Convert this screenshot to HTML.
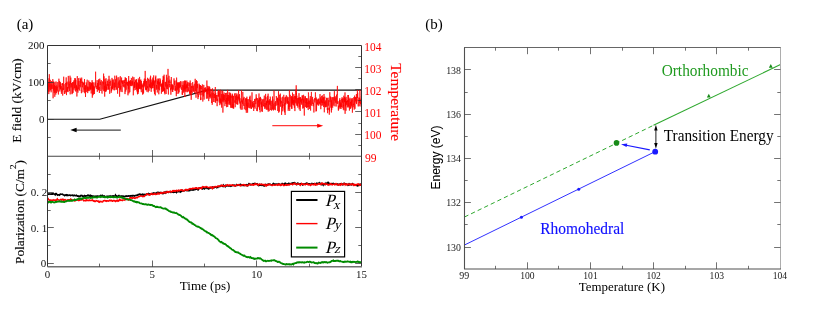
<!DOCTYPE html>
<html lang="en"><head><meta charset="utf-8"><title>Figure</title>
<style>html,body{margin:0;padding:0;background:#fff;}body{width:817px;height:316px;overflow:hidden;}svg{display:block;}</style>
</head><body>
<svg width="817" height="316" viewBox="0 0 817 316" font-family="'Liberation Serif', serif">
<rect width="817" height="316" fill="#fff"/>
<g id="panel-a">
<text x="16.7" y="29.3" font-size="15" fill="#000">(a)</text>
<clipPath id="ca1"><rect x="47.5" y="45.5" width="314.0" height="110.80000000000001"/></clipPath>
<clipPath id="ca2"><rect x="47.5" y="156.3" width="314.0" height="110.5"/></clipPath>
<polyline points="47.5,119.25 99.8,119.25 207.2,90.1 361.5,90.1" fill="none" stroke="#111" stroke-width="1.1"/>
<g clip-path="url(#ca1)"><polyline points="47.5,85.1 47.7,82.6 47.8,80.4 48.0,89.1 48.2,82.1 48.3,91.6 48.5,82.3 48.7,85.6 48.8,94.1 49.0,78.3 49.2,91.6 49.3,74.2 49.5,87.1 49.6,86.0 49.8,82.0 50.0,89.5 50.1,86.7 50.3,79.8 50.5,84.8 50.6,90.4 50.8,88.9 51.0,84.0 51.1,92.3 51.3,89.2 51.5,81.1 51.6,82.1 51.8,89.1 52.0,85.0 52.1,87.6 52.3,88.6 52.5,83.4 52.6,82.9 52.8,79.1 53.0,81.9 53.1,98.3 53.3,81.4 53.5,85.7 53.6,90.6 53.8,86.3 53.9,82.8 54.1,92.8 54.3,87.9 54.4,88.6 54.6,85.1 54.8,96.8 54.9,81.8 55.1,92.7 55.3,91.7 55.4,86.1 55.6,86.7 55.8,94.6 55.9,92.7 56.1,81.5 56.3,85.9 56.4,86.8 56.6,93.0 56.8,85.4 56.9,89.8 57.1,87.1 57.3,91.2 57.4,88.6 57.6,85.9 57.8,82.0 57.9,87.2 58.1,91.9 58.2,91.3 58.4,94.5 58.6,90.2 58.7,90.5 58.9,78.7 59.1,87.4 59.2,86.1 59.4,81.1 59.6,84.7 59.7,89.9 59.9,91.5 60.1,85.4 60.2,89.4 60.4,81.9 60.6,89.3 60.7,83.4 60.9,83.7 61.1,84.9 61.2,87.8 61.4,93.8 61.6,89.1 61.7,86.2 61.9,88.6 62.1,91.4 62.2,83.4 62.4,85.2 62.5,83.1 62.7,95.6 62.9,91.9 63.0,88.1 63.2,90.0 63.4,88.3 63.5,84.4 63.7,76.7 63.9,89.8 64.0,84.1 64.2,90.4 64.4,92.4 64.5,93.9 64.7,91.9 64.9,90.5 65.0,93.6 65.2,87.0 65.4,84.7 65.5,83.1 65.7,83.1 65.9,92.1 66.0,83.3 66.2,77.4 66.3,83.6 66.5,95.1 66.7,82.6 66.8,84.6 67.0,82.1 67.2,81.7 67.3,90.8 67.5,87.0 67.7,91.6 67.8,87.6 68.0,92.1 68.2,82.7 68.3,75.9 68.5,84.0 68.7,88.4 68.8,85.1 69.0,82.2 69.2,81.6 69.3,84.5 69.5,91.0 69.7,84.2 69.8,85.3 70.0,75.7 70.2,94.4 70.3,84.1 70.5,81.2 70.6,83.6 70.8,77.6 71.0,87.5 71.1,85.8 71.3,86.2 71.5,83.2 71.6,85.7 71.8,93.1 72.0,94.2 72.1,83.1 72.3,87.3 72.5,93.4 72.6,82.0 72.8,85.1 73.0,92.5 73.1,92.9 73.3,90.3 73.5,81.6 73.6,83.2 73.8,86.7 74.0,89.6 74.1,80.1 74.3,83.4 74.5,84.7 74.6,88.1 74.8,78.1 74.9,82.6 75.1,85.3 75.3,90.9 75.4,78.4 75.6,84.8 75.8,80.1 75.9,91.7 76.1,84.8 76.3,87.8 76.4,85.5 76.6,90.0 76.8,86.5 76.9,96.5 77.1,80.1 77.3,76.1 77.4,80.8 77.6,91.0 77.8,87.6 77.9,92.7 78.1,87.9 78.3,83.9 78.4,78.2 78.6,89.0 78.8,89.3 78.9,81.4 79.1,81.0 79.2,87.0 79.4,90.0 79.6,90.5 79.7,85.2 79.9,85.8 80.1,77.8 80.2,87.3 80.4,86.9 80.6,79.0 80.7,82.5 80.9,79.3 81.1,90.4 81.2,90.1 81.4,93.2 81.6,87.8 81.7,77.6 81.9,83.1 82.1,82.1 82.2,83.9 82.4,87.3 82.6,85.3 82.7,81.6 82.9,92.3 83.1,92.1 83.2,89.8 83.4,89.8 83.5,82.9 83.7,84.7 83.9,84.0 84.0,82.3 84.2,89.4 84.4,89.4 84.5,79.0 84.7,93.2 84.9,87.9 85.0,92.0 85.2,85.6 85.4,87.2 85.5,97.0 85.7,85.2 85.9,86.1 86.0,89.5 86.2,82.4 86.4,83.2 86.5,84.0 86.7,92.1 86.9,89.9 87.0,83.9 87.2,79.7 87.3,90.9 87.5,86.6 87.7,93.1 87.8,91.3 88.0,87.2 88.2,87.6 88.3,90.8 88.5,88.9 88.7,85.4 88.8,80.5 89.0,91.2 89.2,87.6 89.3,88.6 89.5,85.7 89.7,82.0 89.8,90.5 90.0,89.0 90.2,82.3 90.3,84.5 90.5,89.5 90.7,85.6 90.8,89.1 91.0,82.7 91.2,93.5 91.3,83.7 91.5,83.6 91.6,85.8 91.8,83.1 92.0,89.7 92.1,80.2 92.3,97.7 92.5,82.3 92.6,86.8 92.8,95.3 93.0,85.3 93.1,90.0 93.3,82.4 93.5,94.4 93.6,90.2 93.8,86.2 94.0,91.1 94.1,88.5 94.3,86.6 94.5,94.0 94.6,88.4 94.8,85.8 95.0,82.4 95.1,82.5 95.3,85.8 95.5,80.2 95.6,71.7 95.8,87.4 95.9,85.9 96.1,86.0 96.3,89.1 96.4,88.8 96.6,87.2 96.8,85.8 96.9,86.3 97.1,80.1 97.3,91.8 97.4,89.6 97.6,83.0 97.8,89.3 97.9,85.7 98.1,84.9 98.3,85.3 98.4,80.5 98.6,90.3 98.8,79.1 98.9,89.7 99.1,89.0 99.3,87.1 99.4,93.0 99.6,88.6 99.8,78.6 99.9,83.1 100.1,85.0 100.2,84.7 100.4,83.0 100.6,81.7 100.7,89.6 100.9,91.0 101.1,85.4 101.2,80.0 101.4,82.2 101.6,86.7 101.7,88.0 101.9,93.1 102.1,93.6 102.2,88.2 102.4,81.9 102.6,81.4 102.7,83.6 102.9,89.5 103.1,86.0 103.2,82.0 103.4,84.3 103.6,73.6 103.7,81.4 103.9,91.2 104.0,76.3 104.2,90.8 104.4,85.8 104.5,86.1 104.7,96.6 104.9,80.0 105.0,79.1 105.2,90.8 105.4,81.7 105.5,91.6 105.7,90.8 105.9,91.7 106.0,78.2 106.2,91.1 106.4,86.8 106.5,87.7 106.7,89.7 106.9,84.2 107.0,89.7 107.2,83.0 107.4,81.0 107.5,85.7 107.7,83.8 107.9,83.1 108.0,79.4 108.2,79.5 108.3,89.8 108.5,83.7 108.7,86.0 108.8,89.1 109.0,75.8 109.2,82.8 109.3,82.1 109.5,87.7 109.7,93.8 109.8,86.8 110.0,79.5 110.2,85.8 110.3,82.3 110.5,82.3 110.7,81.1 110.8,83.7 111.0,84.8 111.2,92.8 111.3,86.8 111.5,91.1 111.7,86.6 111.8,87.3 112.0,77.9 112.2,88.6 112.3,81.8 112.5,79.6 112.6,88.9 112.8,82.3 113.0,82.8 113.1,90.2 113.3,87.8 113.5,80.7 113.6,79.5 113.8,86.0 114.0,87.5 114.1,87.9 114.3,84.6 114.5,82.7 114.6,90.3 114.8,75.7 115.0,81.4 115.1,85.0 115.3,86.9 115.5,87.3 115.6,79.3 115.8,85.4 116.0,87.7 116.1,89.9 116.3,80.7 116.5,77.5 116.6,75.6 116.8,89.3 116.9,78.4 117.1,77.4 117.3,79.0 117.4,85.2 117.6,93.7 117.8,87.1 117.9,85.1 118.1,83.5 118.3,82.5 118.4,84.0 118.6,87.9 118.8,77.2 118.9,83.9 119.1,81.2 119.3,85.2 119.4,84.1 119.6,96.7 119.8,79.8 119.9,86.6 120.1,89.8 120.3,76.2 120.4,87.3 120.6,89.3 120.8,85.8 120.9,91.7 121.1,87.1 121.2,84.3 121.4,83.2 121.6,77.5 121.7,82.4 121.9,80.2 122.1,92.1 122.2,81.2 122.4,81.9 122.6,84.0 122.7,80.7 122.9,84.4 123.1,86.4 123.2,83.1 123.4,80.4 123.6,84.5 123.7,86.7 123.9,86.2 124.1,84.5 124.2,87.5 124.4,79.8 124.6,83.1 124.7,81.6 124.9,82.1 125.0,94.1 125.2,77.2 125.4,80.9 125.5,78.2 125.7,91.6 125.9,88.9 126.0,82.7 126.2,89.7 126.4,78.2 126.5,83.8 126.7,83.6 126.9,84.5 127.0,82.0 127.2,84.1 127.4,84.5 127.5,85.6 127.7,82.0 127.9,94.1 128.0,95.3 128.2,80.7 128.4,86.5 128.5,89.2 128.7,76.0 128.9,93.4 129.0,90.8 129.2,80.7 129.3,83.4 129.5,81.6 129.7,85.6 129.8,92.2 130.0,84.2 130.2,82.5 130.3,85.8 130.5,80.1 130.7,85.5 130.8,81.1 131.0,85.7 131.2,85.8 131.3,77.9 131.5,78.2 131.7,82.5 131.8,86.1 132.0,81.9 132.2,83.9 132.3,80.9 132.5,85.4 132.7,76.6 132.8,78.7 133.0,82.6 133.2,87.2 133.3,95.3 133.5,88.1 133.6,86.5 133.8,77.7 134.0,77.2 134.1,90.4 134.3,81.7 134.5,87.9 134.6,82.0 134.8,87.1 135.0,82.1 135.1,79.5 135.3,80.8 135.5,81.7 135.6,80.6 135.8,90.0 136.0,80.4 136.1,82.7 136.3,88.6 136.5,79.1 136.6,89.1 136.8,82.1 137.0,91.4 137.1,82.6 137.3,92.0 137.5,94.3 137.6,88.1 137.8,85.0 137.9,83.1 138.1,93.9 138.3,78.5 138.4,92.1 138.6,84.2 138.8,88.6 138.9,80.0 139.1,82.5 139.3,82.0 139.4,89.1 139.6,76.9 139.8,88.1 139.9,87.0 140.1,80.0 140.3,83.1 140.4,84.0 140.6,89.3 140.8,79.5 140.9,85.3 141.1,88.2 141.3,92.2 141.4,81.0 141.6,89.2 141.7,88.6 141.9,83.9 142.1,87.0 142.2,86.6 142.4,84.8 142.6,88.7 142.7,94.7 142.9,89.4 143.1,94.0 143.2,83.1 143.4,84.0 143.6,92.8 143.7,81.2 143.9,84.9 144.1,87.3 144.2,79.5 144.4,78.6 144.6,85.8 144.7,80.2 144.9,83.4 145.1,81.7 145.2,70.9 145.4,89.1 145.6,89.6 145.7,78.9 145.9,81.1 146.0,90.3 146.2,88.0 146.4,90.0 146.5,81.0 146.7,86.5 146.9,88.5 147.0,91.8 147.2,86.1 147.4,88.2 147.5,77.8 147.7,79.8 147.9,88.7 148.0,89.1 148.2,92.3 148.4,91.4 148.5,78.8 148.7,83.3 148.9,85.6 149.0,90.9 149.2,87.1 149.4,84.4 149.5,87.2 149.7,87.2 149.9,79.7 150.0,85.8 150.2,77.5 150.3,87.7 150.5,75.7 150.7,76.1 150.8,88.2 151.0,85.7 151.2,91.8 151.3,82.6 151.5,82.5 151.7,88.9 151.8,79.7 152.0,79.5 152.2,86.0 152.3,81.0 152.5,84.0 152.7,88.0 152.8,77.6 153.0,88.1 153.2,82.3 153.3,79.5 153.5,84.4 153.7,75.4 153.8,85.6 154.0,81.7 154.2,91.4 154.3,84.9 154.5,94.1 154.6,80.5 154.8,83.1 155.0,89.8 155.1,92.8 155.3,95.4 155.5,77.3 155.6,82.4 155.8,75.6 156.0,85.9 156.1,86.5 156.3,89.8 156.5,85.0 156.6,86.4 156.8,88.6 157.0,79.4 157.1,86.6 157.3,92.5 157.5,81.2 157.6,84.0 157.8,83.5 158.0,80.9 158.1,78.3 158.3,89.4 158.4,79.0 158.6,85.2 158.8,94.3 158.9,81.6 159.1,84.4 159.3,82.3 159.4,82.9 159.6,90.3 159.8,78.8 159.9,78.2 160.1,85.6 160.3,79.4 160.4,82.6 160.6,81.5 160.8,86.7 160.9,84.3 161.1,85.6 161.3,86.5 161.4,93.7 161.6,83.6 161.8,89.2 161.9,84.6 162.1,88.2 162.3,92.0 162.4,82.6 162.6,87.3 162.7,79.9 162.9,91.1 163.1,78.6 163.2,75.9 163.4,91.3 163.6,78.8 163.7,76.8 163.9,90.6 164.1,74.7 164.2,90.2 164.4,87.7 164.6,92.9 164.7,88.6 164.9,94.4 165.1,88.1 165.2,82.0 165.4,85.4 165.6,86.5 165.7,83.5 165.9,81.8 166.1,94.0 166.2,85.7 166.4,74.8 166.6,78.8 166.7,88.8 166.9,77.5 167.0,79.2 167.2,86.7 167.4,84.6 167.5,89.2 167.7,86.7 167.9,79.6 168.0,68.9 168.2,86.7 168.4,94.5 168.5,83.9 168.7,80.8 168.9,82.7 169.0,75.8 169.2,84.1 169.4,87.3 169.5,84.2 169.7,85.0 169.9,79.7 170.0,82.8 170.2,81.7 170.4,87.3 170.5,90.3 170.7,87.9 170.9,94.7 171.0,84.6 171.2,88.5 171.3,77.0 171.5,83.5 171.7,89.5 171.8,87.1 172.0,83.9 172.2,88.0 172.3,91.7 172.5,84.9 172.7,92.0 172.8,91.8 173.0,84.9 173.2,86.7 173.3,89.7 173.5,86.7 173.7,87.0 173.8,84.7 174.0,78.4 174.2,82.6 174.3,85.3 174.5,80.9 174.7,80.7 174.8,85.1 175.0,90.7 175.2,85.8 175.3,90.4 175.5,88.4 175.6,89.4 175.8,90.6 176.0,80.5 176.1,89.2 176.3,96.2 176.5,86.3 176.6,77.6 176.8,86.5 177.0,94.0 177.1,91.5 177.3,83.0 177.5,89.8 177.6,90.3 177.8,82.2 178.0,83.5 178.1,88.6 178.3,82.5 178.5,85.9 178.6,93.6 178.8,84.0 179.0,83.2 179.1,92.3 179.3,82.2 179.4,87.7 179.6,86.8 179.8,83.1 179.9,82.6 180.1,83.9 180.3,87.3 180.4,81.1 180.6,86.5 180.8,85.4 180.9,88.5 181.1,88.1 181.3,87.4 181.4,89.7 181.6,89.9 181.8,86.5 181.9,81.4 182.1,94.6 182.3,92.3 182.4,91.3 182.6,94.9 182.8,85.1 182.9,91.3 183.1,84.1 183.3,81.2 183.4,89.2 183.6,92.2 183.7,92.7 183.9,85.5 184.1,90.7 184.2,83.7 184.4,89.1 184.6,80.5 184.7,92.7 184.9,97.0 185.1,81.0 185.2,91.7 185.4,84.3 185.6,80.6 185.7,88.7 185.9,85.8 186.1,91.6 186.2,88.2 186.4,84.6 186.6,88.2 186.7,82.8 186.9,80.6 187.1,92.3 187.2,83.8 187.4,88.0 187.6,82.2 187.7,86.8 187.9,91.9 188.0,91.1 188.2,87.3 188.4,91.1 188.5,90.6 188.7,88.8 188.9,82.3 189.0,86.2 189.2,83.0 189.4,83.2 189.5,93.6 189.7,92.7 189.9,90.3 190.0,94.1 190.2,80.5 190.4,89.2 190.5,94.0 190.7,95.0 190.9,84.8 191.0,83.2 191.2,99.8 191.4,90.8 191.5,91.9 191.7,86.2 191.9,87.9 192.0,86.0 192.2,93.2 192.3,86.2 192.5,84.5 192.7,82.1 192.8,88.3 193.0,91.3 193.2,91.1 193.3,85.7 193.5,89.3 193.7,91.8 193.8,87.5 194.0,87.3 194.2,84.7 194.3,83.8 194.5,89.9 194.7,93.1 194.8,91.7 195.0,86.8 195.2,78.8 195.3,90.5 195.5,89.8 195.7,90.9 195.8,81.2 196.0,97.7 196.1,86.4 196.3,83.9 196.5,80.1 196.6,92.2 196.8,87.4 197.0,84.1 197.1,81.1 197.3,88.1 197.5,84.1 197.6,94.4 197.8,91.8 198.0,99.1 198.1,93.9 198.3,97.1 198.5,96.4 198.6,96.8 198.8,89.2 199.0,83.6 199.1,92.0 199.3,93.4 199.5,84.7 199.6,89.3 199.8,93.0 200.0,95.1 200.1,85.5 200.3,88.8 200.4,85.1 200.6,100.1 200.8,97.5 200.9,99.9 201.1,87.6 201.3,88.9 201.4,85.9 201.6,87.3 201.8,88.8 201.9,95.2 202.1,94.1 202.3,89.8 202.4,84.4 202.6,97.2 202.8,101.5 202.9,100.6 203.1,96.2 203.3,89.7 203.4,96.4 203.6,88.0 203.8,84.9 203.9,94.4 204.1,99.6 204.3,93.9 204.4,89.2 204.6,87.8 204.7,92.7 204.9,89.8 205.1,90.0 205.2,89.5 205.4,87.3 205.6,92.0 205.7,88.4 205.9,89.6 206.1,89.0 206.2,89.8 206.4,98.7 206.6,91.0 206.7,91.6 206.9,80.5 207.1,93.9 207.2,93.7 207.4,88.5 207.6,98.5 207.7,85.9 207.9,93.5 208.1,94.5 208.2,88.8 208.4,90.2 208.6,87.5 208.7,101.1 208.9,94.4 209.0,86.0 209.2,91.1 209.4,96.9 209.5,89.0 209.7,87.0 209.9,98.6 210.0,88.7 210.2,96.3 210.4,95.6 210.5,94.4 210.7,97.6 210.9,96.4 211.0,89.3 211.2,89.2 211.4,96.1 211.5,100.7 211.7,103.0 211.9,92.5 212.0,99.7 212.2,104.8 212.4,103.1 212.5,88.4 212.7,92.9 212.9,96.2 213.0,97.7 213.2,93.0 213.3,96.7 213.5,100.3 213.7,102.0 213.8,91.1 214.0,93.0 214.2,94.4 214.3,98.0 214.5,94.1 214.7,96.2 214.8,98.8 215.0,102.2 215.2,94.1 215.3,87.0 215.5,102.7 215.7,92.9 215.8,99.4 216.0,94.9 216.2,95.1 216.3,96.5 216.5,99.3 216.7,100.9 216.8,95.0 217.0,98.7 217.1,106.2 217.3,99.9 217.5,98.8 217.6,101.0 217.8,95.4 218.0,96.5 218.1,91.3 218.3,95.9 218.5,89.9 218.6,96.5 218.8,93.4 219.0,101.3 219.1,102.0 219.3,102.6 219.5,91.2 219.6,92.1 219.8,105.2 220.0,97.9 220.1,101.7 220.3,89.7 220.5,103.4 220.6,99.9 220.8,99.0 221.0,100.9 221.1,101.9 221.3,104.5 221.4,94.1 221.6,107.6 221.8,101.3 221.9,90.7 222.1,97.0 222.3,96.8 222.4,101.6 222.6,91.9 222.8,90.7 222.9,112.6 223.1,95.3 223.3,94.0 223.4,100.5 223.6,94.8 223.8,102.3 223.9,101.6 224.1,92.5 224.3,98.4 224.4,100.1 224.6,94.9 224.8,96.2 224.9,106.1 225.1,99.8 225.3,101.6 225.4,99.9 225.6,93.0 225.7,95.0 225.9,103.9 226.1,100.7 226.2,94.0 226.4,92.8 226.6,107.2 226.7,98.0 226.9,103.9 227.1,102.9 227.2,95.0 227.4,101.3 227.6,89.9 227.7,107.0 227.9,97.4 228.1,99.3 228.2,104.5 228.4,95.0 228.6,100.9 228.7,100.4 228.9,99.9 229.1,92.3 229.2,99.2 229.4,95.6 229.6,103.4 229.7,99.3 229.9,104.8 230.0,92.7 230.2,105.1 230.4,93.4 230.5,100.4 230.7,107.7 230.9,95.4 231.0,98.3 231.2,95.8 231.4,107.9 231.5,107.3 231.7,101.6 231.9,99.9 232.0,98.6 232.2,93.6 232.4,107.5 232.5,94.6 232.7,101.7 232.9,108.1 233.0,104.0 233.2,108.4 233.4,95.9 233.5,101.4 233.7,108.6 233.8,96.3 234.0,96.4 234.2,96.1 234.3,95.8 234.5,93.5 234.7,102.6 234.8,102.1 235.0,100.3 235.2,107.2 235.3,96.0 235.5,102.7 235.7,103.4 235.8,93.2 236.0,96.9 236.2,100.0 236.3,96.6 236.5,95.1 236.7,94.8 236.8,104.1 237.0,93.6 237.2,104.5 237.3,96.8 237.5,96.9 237.7,98.3 237.8,104.6 238.0,99.2 238.1,95.5 238.3,98.7 238.5,94.2 238.6,90.2 238.8,98.7 239.0,100.4 239.1,97.0 239.3,101.5 239.5,94.2 239.6,98.1 239.8,103.5 240.0,98.2 240.1,103.2 240.3,108.4 240.5,104.9 240.6,101.5 240.8,102.7 241.0,109.7 241.1,106.5 241.3,95.6 241.5,90.4 241.6,102.3 241.8,101.4 242.0,99.4 242.1,109.7 242.3,107.9 242.4,100.5 242.6,103.9 242.8,91.9 242.9,95.5 243.1,96.6 243.3,100.2 243.4,98.1 243.6,105.0 243.8,105.9 243.9,101.5 244.1,96.9 244.3,109.3 244.4,106.7 244.6,104.8 244.8,102.5 244.9,101.2 245.1,100.3 245.3,100.3 245.4,98.6 245.6,102.5 245.8,110.2 245.9,98.2 246.1,100.5 246.3,112.8 246.4,98.3 246.6,101.7 246.7,106.1 246.9,96.7 247.1,106.4 247.2,109.6 247.4,99.2 247.6,112.7 247.7,104.7 247.9,106.6 248.1,102.7 248.2,107.8 248.4,105.7 248.6,99.9 248.7,99.1 248.9,101.6 249.1,103.9 249.2,104.3 249.4,108.2 249.6,101.5 249.7,96.9 249.9,101.8 250.1,95.7 250.2,105.1 250.4,106.7 250.6,100.2 250.7,107.9 250.9,108.6 251.0,100.5 251.2,108.1 251.4,107.2 251.5,108.9 251.7,104.8 251.9,101.5 252.0,92.3 252.2,106.5 252.4,101.8 252.5,104.0 252.7,107.0 252.9,104.2 253.0,107.8 253.2,102.6 253.4,101.1 253.5,102.7 253.7,111.0 253.9,106.4 254.0,103.2 254.2,106.1 254.4,107.1 254.5,99.1 254.7,101.9 254.8,101.4 255.0,108.7 255.2,107.0 255.3,98.7 255.5,99.2 255.7,99.6 255.8,104.1 256.0,99.7 256.2,94.3 256.3,100.3 256.5,97.6 256.7,99.4 256.8,110.9 257.0,109.0 257.2,108.0 257.3,111.2 257.5,98.2 257.7,108.4 257.8,107.9 258.0,100.9 258.2,102.3 258.3,107.0 258.5,99.7 258.7,100.4 258.8,102.5 259.0,93.5 259.1,106.0 259.3,97.9 259.5,109.9 259.6,99.3 259.8,97.6 260.0,105.6 260.1,112.3 260.3,99.2 260.5,96.9 260.6,100.8 260.8,98.1 261.0,104.4 261.1,101.3 261.3,103.5 261.5,107.1 261.6,102.5 261.8,111.3 262.0,99.0 262.1,103.6 262.3,111.9 262.5,105.4 262.6,103.9 262.8,99.7 263.0,103.8 263.1,104.4 263.3,105.8 263.4,105.1 263.6,105.8 263.8,98.8 263.9,104.5 264.1,106.9 264.3,95.6 264.4,102.7 264.6,104.3 264.8,108.9 264.9,105.6 265.1,103.1 265.3,107.6 265.4,105.8 265.6,93.9 265.8,99.5 265.9,96.9 266.1,109.3 266.3,101.5 266.4,105.1 266.6,100.6 266.8,109.9 266.9,109.3 267.1,105.5 267.3,98.4 267.4,98.7 267.6,102.9 267.7,95.9 267.9,109.6 268.1,93.7 268.2,111.6 268.4,102.4 268.6,100.6 268.7,109.5 268.9,108.6 269.1,109.3 269.2,111.2 269.4,100.7 269.6,104.1 269.7,99.1 269.9,105.1 270.1,103.0 270.2,96.6 270.4,98.0 270.6,106.3 270.7,110.0 270.9,101.1 271.1,106.1 271.2,106.4 271.4,110.7 271.5,110.3 271.7,104.6 271.9,100.6 272.0,105.7 272.2,105.3 272.4,109.5 272.5,96.5 272.7,104.3 272.9,99.4 273.0,109.5 273.2,103.8 273.4,110.5 273.5,110.0 273.7,105.5 273.9,100.2 274.0,90.7 274.2,99.0 274.4,109.6 274.5,105.5 274.7,105.8 274.9,102.5 275.0,102.8 275.2,106.2 275.4,110.2 275.5,101.1 275.7,101.8 275.8,106.1 276.0,104.7 276.2,102.8 276.3,96.0 276.5,98.6 276.7,100.1 276.8,101.1 277.0,105.3 277.2,97.6 277.3,102.5 277.5,98.2 277.7,110.7 277.8,111.0 278.0,105.5 278.2,102.6 278.3,105.1 278.5,91.2 278.7,112.7 278.8,104.1 279.0,98.9 279.2,100.7 279.3,111.6 279.5,96.2 279.7,94.8 279.8,96.6 280.0,100.4 280.1,101.2 280.3,93.6 280.5,106.7 280.6,100.0 280.8,103.6 281.0,97.5 281.1,103.6 281.3,101.0 281.5,101.2 281.6,114.9 281.8,104.5 282.0,104.6 282.1,104.6 282.3,104.3 282.5,107.6 282.6,96.7 282.8,111.3 283.0,102.8 283.1,103.0 283.3,103.0 283.5,101.9 283.6,96.4 283.8,94.8 284.0,105.8 284.1,104.5 284.3,109.8 284.4,103.2 284.6,112.4 284.8,103.5 284.9,97.5 285.1,115.0 285.3,102.2 285.4,96.8 285.6,103.9 285.8,103.3 285.9,104.5 286.1,99.6 286.3,95.2 286.4,99.0 286.6,102.4 286.8,103.1 286.9,103.0 287.1,96.5 287.3,98.3 287.4,103.7 287.6,100.3 287.8,98.1 287.9,103.4 288.1,97.0 288.2,110.8 288.4,100.9 288.6,105.7 288.7,109.1 288.9,102.4 289.1,104.9 289.2,106.9 289.4,90.3 289.6,96.8 289.7,110.9 289.9,102.7 290.1,102.8 290.2,94.8 290.4,96.6 290.6,98.8 290.7,99.2 290.9,106.7 291.1,96.6 291.2,97.1 291.4,97.4 291.6,108.6 291.7,96.1 291.9,108.9 292.1,100.2 292.2,99.2 292.4,103.2 292.5,92.6 292.7,104.6 292.9,99.5 293.0,97.1 293.2,102.8 293.4,100.0 293.5,105.3 293.7,94.3 293.9,94.0 294.0,94.5 294.2,105.5 294.4,107.9 294.5,99.3 294.7,95.9 294.9,111.1 295.0,99.6 295.2,102.6 295.4,96.1 295.5,98.0 295.7,99.3 295.9,89.6 296.0,103.5 296.2,85.3 296.4,95.0 296.5,92.9 296.7,105.6 296.8,95.6 297.0,100.1 297.2,99.8 297.3,102.5 297.5,105.8 297.7,98.0 297.8,107.6 298.0,106.5 298.2,103.0 298.3,100.7 298.5,97.7 298.7,103.4 298.8,103.5 299.0,93.2 299.2,109.4 299.3,100.5 299.5,97.5 299.7,103.9 299.8,106.9 300.0,102.5 300.2,111.0 300.3,97.0 300.5,102.3 300.7,97.6 300.8,100.9 301.0,100.6 301.1,100.0 301.3,103.4 301.5,98.8 301.6,104.2 301.8,104.8 302.0,97.8 302.1,95.4 302.3,99.5 302.5,100.2 302.6,95.6 302.8,108.6 303.0,99.1 303.1,105.0 303.3,108.1 303.5,103.1 303.6,94.8 303.8,102.5 304.0,99.3 304.1,102.8 304.3,115.6 304.5,98.3 304.6,98.5 304.8,96.4 305.0,97.3 305.1,100.5 305.3,106.9 305.4,96.3 305.6,102.9 305.8,102.3 305.9,102.6 306.1,107.2 306.3,103.6 306.4,98.0 306.6,108.0 306.8,99.1 306.9,104.1 307.1,100.1 307.3,98.3 307.4,107.3 307.6,105.7 307.8,102.2 307.9,104.5 308.1,109.9 308.3,109.9 308.4,92.4 308.6,94.5 308.8,107.0 308.9,100.6 309.1,104.0 309.2,100.6 309.4,109.0 309.6,103.9 309.7,101.9 309.9,98.8 310.1,99.4 310.2,96.6 310.4,96.1 310.6,110.6 310.7,99.8 310.9,105.0 311.1,104.5 311.2,100.2 311.4,91.9 311.6,103.0 311.7,105.8 311.9,103.8 312.1,102.4 312.2,98.7 312.4,99.4 312.6,96.9 312.7,104.0 312.9,101.3 313.1,99.4 313.2,106.2 313.4,103.5 313.5,102.8 313.7,105.1 313.9,112.5 314.0,107.8 314.2,102.2 314.4,100.3 314.5,99.5 314.7,98.4 314.9,102.5 315.0,98.2 315.2,100.2 315.4,92.3 315.5,94.8 315.7,98.7 315.9,99.3 316.0,111.5 316.2,97.5 316.4,101.2 316.5,111.0 316.7,104.0 316.9,99.0 317.0,99.1 317.2,104.2 317.4,102.5 317.5,104.0 317.7,100.1 317.8,105.2 318.0,104.1 318.2,98.7 318.3,100.4 318.5,99.6 318.7,105.7 318.8,98.7 319.0,100.7 319.2,102.9 319.3,103.6 319.5,101.7 319.7,103.5 319.8,102.5 320.0,94.1 320.2,104.9 320.3,98.1 320.5,97.4 320.7,103.0 320.8,109.2 321.0,99.9 321.2,103.3 321.3,99.6 321.5,102.3 321.7,96.0 321.8,105.5 322.0,104.5 322.1,105.6 322.3,95.3 322.5,102.8 322.6,101.6 322.8,104.8 323.0,97.6 323.1,103.2 323.3,101.3 323.5,97.3 323.6,107.0 323.8,102.3 324.0,94.0 324.1,100.4 324.3,112.3 324.5,101.8 324.6,103.6 324.8,96.7 325.0,106.7 325.1,105.9 325.3,100.3 325.5,105.4 325.6,107.2 325.8,101.7 325.9,101.5 326.1,107.2 326.3,105.4 326.4,104.4 326.6,97.8 326.8,105.5 326.9,106.5 327.1,98.1 327.3,109.9 327.4,108.1 327.6,113.2 327.8,105.8 327.9,102.1 328.1,97.7 328.3,105.5 328.4,105.7 328.6,100.1 328.8,100.8 328.9,109.9 329.1,108.0 329.3,114.7 329.4,107.7 329.6,111.4 329.8,92.2 329.9,101.4 330.1,102.1 330.2,99.6 330.4,99.6 330.6,96.5 330.7,106.5 330.9,107.7 331.1,97.2 331.2,102.7 331.4,112.5 331.6,100.3 331.7,110.0 331.9,99.1 332.1,98.3 332.2,98.3 332.4,97.2 332.6,101.2 332.7,107.7 332.9,102.7 333.1,97.5 333.2,105.7 333.4,104.1 333.6,100.5 333.7,100.0 333.9,96.9 334.1,100.8 334.2,100.3 334.4,91.1 334.5,103.9 334.7,104.8 334.9,106.3 335.0,104.1 335.2,96.3 335.4,102.7 335.5,99.3 335.7,99.1 335.9,97.6 336.0,102.6 336.2,106.5 336.4,97.6 336.5,95.0 336.7,102.1 336.9,103.6 337.0,94.2 337.2,94.9 337.4,85.9 337.5,103.9 337.7,103.7 337.9,103.4 338.0,101.2 338.2,108.6 338.4,110.7 338.5,105.7 338.7,109.6 338.8,107.3 339.0,103.9 339.2,101.8 339.3,101.4 339.5,99.9 339.7,107.3 339.8,98.2 340.0,108.7 340.2,100.1 340.3,106.1 340.5,104.0 340.7,107.4 340.8,102.4 341.0,109.0 341.2,103.5 341.3,103.0 341.5,107.0 341.7,98.8 341.8,102.8 342.0,97.2 342.2,97.8 342.3,100.7 342.5,102.4 342.7,98.9 342.8,107.7 343.0,98.3 343.1,106.5 343.3,109.6 343.5,105.0 343.6,106.0 343.8,95.7 344.0,110.3 344.1,98.5 344.3,98.7 344.5,101.8 344.6,97.1 344.8,102.3 345.0,92.4 345.1,113.8 345.3,97.9 345.5,106.3 345.6,100.2 345.8,99.2 346.0,110.7 346.1,96.8 346.3,103.6 346.5,101.1 346.6,103.3 346.8,105.1 346.9,101.0 347.1,101.6 347.3,100.4 347.4,107.4 347.6,100.5 347.8,102.0 347.9,95.0 348.1,102.3 348.3,106.0 348.4,95.0 348.6,107.4 348.8,102.9 348.9,102.5 349.1,98.9 349.3,99.1 349.4,110.6 349.6,102.9 349.8,102.8 349.9,97.7 350.1,100.1 350.3,108.9 350.4,101.9 350.6,103.2 350.8,102.4 350.9,108.2 351.1,98.6 351.2,104.8 351.4,100.7 351.6,106.4 351.7,104.0 351.9,98.4 352.1,101.2 352.2,100.5 352.4,112.7 352.6,103.2 352.7,99.1 352.9,98.1 353.1,102.3 353.2,107.3 353.4,103.8 353.6,105.1 353.7,101.0 353.9,97.0 354.1,99.1 354.2,109.7 354.4,106.6 354.6,95.6 354.7,100.6 354.9,107.6 355.1,108.7 355.2,97.2 355.4,99.8 355.5,101.3 355.7,97.7 355.9,99.1 356.0,97.0 356.2,103.1 356.4,94.0 356.5,104.1 356.7,102.2 356.9,99.6 357.0,101.2 357.2,97.6 357.4,89.9 357.5,98.0 357.7,92.6 357.9,98.6 358.0,104.9 358.2,106.4 358.4,105.2 358.5,101.3 358.7,99.4 358.9,97.5 359.0,97.7 359.2,106.3 359.4,99.2 359.5,97.8 359.7,103.1 359.8,90.0 360.0,91.9 360.2,95.6 360.3,97.1 360.5,104.2 360.7,99.4 360.8,99.5 361.0,106.5 361.2,101.0 361.3,98.5 361.5,97.2" fill="none" stroke="#ff0000" stroke-width="0.7" stroke-linejoin="round"/></g>
<line x1="75" y1="130.1" x2="120.8" y2="130.1" stroke="#444" stroke-width="1.3"/><polygon points="70.3,130 76.6,127.8 76.6,132.2" fill="#000"/>
<line x1="272.3" y1="125.7" x2="318" y2="125.7" stroke="#ff3838" stroke-width="1.2"/><polygon points="323.2,125.7 317.2,123.7 317.2,127.7" fill="#f00"/>
<g clip-path="url(#ca2)">
<polyline points="47.5,194.2 47.8,194.3 48.2,193.9 48.5,194.0 48.9,194.2 49.2,194.2 49.6,194.1 49.9,193.9 50.3,194.1 50.6,194.2 51.0,194.1 51.3,194.1 51.7,194.1 52.0,193.8 52.4,194.0 52.7,194.2 53.1,194.1 53.4,193.9 53.8,193.7 54.1,194.0 54.5,194.1 54.8,194.4 55.2,194.8 55.5,194.2 55.9,193.5 56.2,193.5 56.6,194.0 56.9,194.6 57.3,194.7 57.6,195.2 58.0,194.9 58.3,194.8 58.7,194.8 59.0,195.0 59.4,195.2 59.7,194.6 60.1,194.2 60.4,194.1 60.8,194.4 61.1,194.3 61.5,194.3 61.8,194.3 62.2,194.2 62.5,194.4 62.9,194.5 63.2,194.8 63.6,194.9 63.9,195.1 64.3,195.4 64.6,195.6 65.0,195.0 65.3,195.0 65.7,194.9 66.0,195.2 66.4,194.9 66.7,195.3 67.1,195.2 67.4,195.4 67.8,195.0 68.1,195.2 68.5,195.4 68.8,195.2 69.2,195.1 69.5,195.0 69.9,195.2 70.2,195.4 70.6,195.5 70.9,195.2 71.3,195.2 71.6,195.3 72.0,195.4 72.3,195.3 72.7,195.1 73.0,195.2 73.4,195.7 73.7,195.6 74.1,195.4 74.4,195.2 74.8,195.5 75.1,195.8 75.5,195.8 75.8,195.5 76.2,195.2 76.5,195.4 76.9,196.0 77.2,196.2 77.6,196.0 77.9,195.9 78.3,196.0 78.6,196.5 79.0,196.6 79.3,196.5 79.7,196.2 80.0,196.4 80.4,195.9 80.7,195.9 81.1,195.4 81.4,195.6 81.8,195.6 82.1,195.6 82.5,196.1 82.8,196.1 83.2,196.4 83.5,196.5 83.9,196.3 84.2,195.9 84.6,195.6 84.9,195.8 85.3,195.9 85.6,196.2 86.0,195.8 86.3,195.9 86.7,196.0 87.0,195.8 87.4,195.8 87.7,195.3 88.1,195.5 88.4,195.3 88.8,195.7 89.1,195.8 89.5,196.1 89.8,195.4 90.2,195.3 90.5,196.2 90.9,196.5 91.2,196.1 91.6,195.7 91.9,195.9 92.3,196.1 92.6,196.1 93.0,196.3 93.3,196.2 93.7,196.6 94.0,196.4 94.4,196.4 94.7,196.4 95.1,196.4 95.4,196.4 95.8,196.2 96.1,196.1 96.5,196.3 96.8,196.3 97.2,196.5 97.5,196.0 97.9,196.0 98.2,196.1 98.6,196.2 98.9,196.2 99.3,196.2 99.6,196.2 100.0,195.9 100.3,195.8 100.7,195.4 101.0,195.5 101.4,196.2 101.7,195.9 102.1,196.0 102.4,195.4 102.8,195.7 103.1,195.9 103.5,196.1 103.8,196.2 104.2,195.9 104.5,196.1 104.9,196.5 105.2,197.1 105.6,197.1 105.9,196.9 106.3,196.4 106.6,196.3 107.0,196.6 107.3,196.6 107.7,196.6 108.0,196.1 108.4,196.2 108.7,196.2 109.1,196.2 109.4,196.1 109.8,196.6 110.1,197.0 110.5,196.8 110.8,196.2 111.2,196.6 111.5,196.8 111.9,196.9 112.2,196.1 112.6,196.1 112.9,195.9 113.3,196.1 113.6,196.0 114.0,196.6 114.3,196.6 114.7,196.1 115.0,195.9 115.4,195.2 115.7,196.0 116.1,196.0 116.4,196.4 116.8,196.0 117.1,196.3 117.5,196.6 117.8,196.6 118.2,196.4 118.5,195.8 118.9,196.2 119.2,195.8 119.6,196.4 119.9,196.1 120.3,196.3 120.6,196.1 121.0,196.3 121.3,196.4 121.7,196.1 122.0,196.4 122.4,196.1 122.7,196.0 123.1,196.0 123.4,196.2 123.8,196.4 124.1,196.3 124.5,196.5 124.8,196.5 125.2,196.5 125.5,196.2 125.9,196.0 126.2,195.9 126.6,196.1 126.9,196.0 127.3,196.1 127.6,196.0 128.0,196.2 128.3,196.2 128.7,195.8 129.0,195.8 129.4,196.0 129.7,196.1 130.1,196.3 130.4,196.0 130.8,195.9 131.1,195.7 131.5,195.8 131.8,195.9 132.2,195.6 132.5,196.0 132.9,195.8 133.2,195.7 133.6,195.5 133.9,195.5 134.3,196.0 134.6,195.7 135.0,195.7 135.3,195.7 135.7,195.4 136.0,195.3 136.4,195.4 136.7,195.1 137.1,195.0 137.4,195.1 137.8,195.1 138.1,194.6 138.5,194.6 138.8,194.4 139.2,194.2 139.5,194.1 139.9,194.2 140.2,194.6 140.6,194.5 140.9,195.1 141.3,195.0 141.6,194.8 142.0,194.5 142.3,194.3 142.7,194.8 143.0,194.5 143.4,195.0 143.7,194.6 144.1,194.6 144.4,194.4 144.8,194.3 145.1,194.5 145.5,195.0 145.8,194.6 146.2,194.6 146.5,194.1 146.9,194.2 147.2,194.0 147.6,194.3 147.9,193.9 148.3,193.7 148.6,193.5 149.0,193.9 149.3,194.0 149.7,194.3 150.0,194.2 150.4,194.3 150.7,194.1 151.1,194.0 151.4,194.1 151.8,194.0 152.1,193.9 152.4,193.4 152.8,193.3 153.1,193.3 153.5,193.1 153.8,193.0 154.2,193.5 154.5,193.4 154.9,193.5 155.2,193.4 155.6,193.3 155.9,193.4 156.3,193.0 156.6,193.0 157.0,192.6 157.3,192.6 157.7,192.4 158.0,192.6 158.4,192.5 158.7,192.9 159.1,192.9 159.4,193.0 159.8,192.6 160.1,192.6 160.5,192.8 160.8,192.8 161.2,192.6 161.5,192.5 161.9,192.6 162.2,193.0 162.6,193.5 162.9,193.7 163.3,193.4 163.6,192.9 164.0,192.8 164.3,192.4 164.7,192.9 165.0,193.1 165.4,192.5 165.7,192.6 166.1,191.9 166.4,192.3 166.8,192.0 167.1,192.1 167.5,192.0 167.8,192.3 168.2,192.4 168.5,192.1 168.9,191.9 169.2,191.8 169.6,191.7 169.9,191.6 170.3,191.5 170.6,191.6 171.0,192.2 171.3,191.9 171.7,192.0 172.0,191.9 172.4,192.1 172.7,192.0 173.1,192.4 173.4,192.5 173.8,192.4 174.1,192.1 174.5,191.7 174.8,192.1 175.2,192.2 175.5,191.9 175.9,191.8 176.2,191.7 176.6,192.4 176.9,191.9 177.3,191.6 177.6,191.4 178.0,191.4 178.3,191.5 178.7,191.0 179.0,191.5 179.4,191.7 179.7,191.7 180.1,191.4 180.4,192.0 180.8,191.6 181.1,191.6 181.5,191.1 181.8,190.8 182.2,190.3 182.5,190.8 182.9,191.0 183.2,190.9 183.6,190.7 183.9,190.7 184.3,190.7 184.6,190.6 185.0,190.5 185.3,190.2 185.7,190.0 186.0,190.1 186.4,190.4 186.7,190.6 187.1,190.3 187.4,190.3 187.8,189.9 188.1,190.6 188.5,190.3 188.8,190.5 189.2,190.2 189.5,190.7 189.9,190.6 190.2,190.1 190.6,189.5 190.9,189.4 191.3,189.5 191.6,189.9 192.0,189.5 192.3,189.7 192.7,190.1 193.0,190.2 193.4,190.1 193.7,189.8 194.1,189.8 194.4,189.6 194.8,189.5 195.1,189.6 195.5,189.2 195.8,189.1 196.2,189.2 196.5,189.0 196.9,189.1 197.2,189.0 197.6,189.5 197.9,189.2 198.3,189.6 198.6,189.0 199.0,188.9 199.3,188.2 199.7,188.0 200.0,187.9 200.4,188.0 200.7,187.8 201.1,187.6 201.4,187.9 201.8,188.3 202.1,188.6 202.5,188.9 202.8,188.7 203.2,188.4 203.5,188.0 203.9,188.2 204.2,188.6 204.6,188.9 204.9,188.4 205.3,187.9 205.6,187.6 206.0,187.6 206.3,187.4 206.7,187.7 207.0,188.3 207.4,188.2 207.7,188.5 208.1,188.5 208.4,188.6 208.8,188.9 209.1,188.7 209.5,188.4 209.8,188.0 210.2,187.9 210.5,187.9 210.9,187.7 211.2,187.6 211.6,187.7 211.9,187.8 212.3,187.4 212.6,187.0 213.0,187.2 213.3,187.4 213.7,187.8 214.0,187.7 214.4,187.5 214.7,187.2 215.1,186.8 215.4,186.9 215.8,187.2 216.1,187.2 216.5,187.6 216.8,187.2 217.2,187.3 217.5,187.2 217.9,187.3 218.2,186.7 218.6,186.4 218.9,186.3 219.3,186.4 219.6,186.6 220.0,186.5 220.3,186.2 220.7,186.1 221.0,185.5 221.4,185.6 221.7,185.7 222.1,185.8 222.4,186.2 222.8,185.9 223.1,186.3 223.5,185.4 223.8,186.0 224.2,185.8 224.5,186.1 224.9,186.0 225.2,186.6 225.6,186.0 225.9,185.5 226.3,186.0 226.6,185.8 227.0,185.7 227.3,185.4 227.7,185.8 228.0,185.9 228.4,186.1 228.7,185.8 229.1,186.0 229.4,185.9 229.8,185.7 230.1,185.6 230.5,186.0 230.8,186.2 231.2,185.9 231.5,185.8 231.9,185.9 232.2,185.4 232.6,185.0 232.9,185.0 233.3,185.1 233.6,185.4 234.0,185.4 234.3,185.4 234.7,185.2 235.0,185.6 235.4,185.8 235.7,185.7 236.1,185.4 236.4,185.3 236.8,184.7 237.1,184.9 237.5,184.9 237.8,185.4 238.2,185.3 238.5,185.0 238.9,184.7 239.2,184.9 239.6,185.1 239.9,184.9 240.3,184.3 240.6,184.3 241.0,184.7 241.3,184.8 241.7,185.3 242.0,185.5 242.4,185.3 242.7,185.2 243.1,185.1 243.4,185.4 243.8,185.4 244.1,185.6 244.5,185.4 244.8,185.1 245.2,184.9 245.5,185.2 245.9,185.3 246.2,185.0 246.6,184.8 246.9,185.1 247.3,185.8 247.6,185.7 248.0,185.3 248.3,184.6 248.7,184.0 249.0,183.6 249.4,184.0 249.7,184.4 250.1,184.6 250.4,184.4 250.8,184.7 251.1,184.5 251.5,184.5 251.8,184.5 252.2,184.3 252.5,184.0 252.9,183.7 253.2,183.9 253.6,183.7 253.9,183.7 254.3,183.5 254.6,184.0 255.0,183.7 255.3,183.5 255.7,183.6 256.0,184.1 256.4,184.3 256.7,184.0 257.1,183.7 257.4,183.9 257.7,184.7 258.1,185.2 258.4,185.5 258.8,185.6 259.1,185.3 259.5,185.1 259.8,184.5 260.2,184.6 260.5,185.1 260.9,185.2 261.2,185.3 261.6,184.6 261.9,184.9 262.3,185.0 262.6,185.3 263.0,185.5 263.3,185.4 263.7,185.6 264.0,185.9 264.4,185.9 264.7,185.6 265.1,185.1 265.4,184.6 265.8,184.8 266.1,184.7 266.5,185.4 266.8,185.5 267.2,185.4 267.5,184.6 267.9,184.6 268.2,184.2 268.6,184.1 268.9,184.1 269.3,184.4 269.6,184.3 270.0,184.1 270.3,184.4 270.7,184.7 271.0,184.7 271.4,184.7 271.7,184.8 272.1,184.9 272.4,184.7 272.8,184.3 273.1,183.7 273.5,183.5 273.8,183.7 274.2,184.2 274.5,184.6 274.9,184.4 275.2,184.1 275.6,184.0 275.9,184.2 276.3,184.4 276.6,184.1 277.0,184.2 277.3,184.6 277.7,184.3 278.0,184.5 278.4,184.0 278.7,184.3 279.1,184.0 279.4,184.0 279.8,184.2 280.1,184.7 280.5,185.0 280.8,185.1 281.2,184.6 281.5,184.1 281.9,184.0 282.2,183.6 282.6,183.8 282.9,184.0 283.3,184.1 283.6,184.2 284.0,184.4 284.3,184.0 284.7,184.1 285.0,183.5 285.4,183.8 285.7,183.5 286.1,184.0 286.4,184.0 286.8,184.7 287.1,184.2 287.5,184.0 287.8,183.8 288.2,183.6 288.5,183.4 288.9,183.4 289.2,184.0 289.6,184.4 289.9,184.0 290.3,183.9 290.6,183.8 291.0,183.7 291.3,183.2 291.7,183.2 292.0,183.5 292.4,183.6 292.7,183.1 293.1,182.7 293.4,182.7 293.8,183.5 294.1,183.7 294.5,183.4 294.8,182.9 295.2,183.5 295.5,183.5 295.9,184.2 296.2,184.2 296.6,184.5 296.9,183.8 297.3,183.3 297.6,183.1 298.0,183.2 298.3,183.4 298.7,184.0 299.0,184.1 299.4,184.4 299.7,184.2 300.1,184.3 300.4,183.7 300.8,183.7 301.1,183.5 301.5,183.6 301.8,183.9 302.2,184.3 302.5,184.8 302.9,184.5 303.2,184.6 303.6,184.2 303.9,184.0 304.3,183.9 304.6,184.1 305.0,184.3 305.3,184.2 305.7,183.6 306.0,183.7 306.4,183.3 306.7,183.5 307.1,183.3 307.4,183.6 307.8,184.0 308.1,184.3 308.5,184.2 308.8,183.8 309.2,183.7 309.5,183.7 309.9,184.1 310.2,184.6 310.6,184.8 310.9,184.3 311.3,183.9 311.6,183.7 312.0,183.4 312.3,183.5 312.7,183.6 313.0,183.9 313.4,183.9 313.7,183.8 314.1,183.7 314.4,183.6 314.8,183.7 315.1,184.0 315.5,184.5 315.8,184.2 316.2,183.5 316.5,183.3 316.9,183.6 317.2,184.0 317.6,183.5 317.9,183.4 318.3,183.4 318.6,183.6 319.0,183.2 319.3,183.4 319.7,182.9 320.0,183.4 320.4,183.9 320.7,184.3 321.1,184.6 321.4,184.2 321.8,184.3 322.1,183.7 322.5,184.1 322.8,184.3 323.2,185.0 323.5,184.3 323.9,184.2 324.2,183.8 324.6,184.2 324.9,184.7 325.3,184.6 325.6,184.0 326.0,183.1 326.3,183.4 326.7,183.5 327.0,183.8 327.4,183.4 327.7,182.7 328.1,182.3 328.4,182.5 328.8,183.4 329.1,184.1 329.5,183.6 329.8,183.8 330.2,184.3 330.5,184.4 330.9,184.3 331.2,183.7 331.6,183.9 331.9,183.7 332.3,183.8 332.6,183.7 333.0,183.5 333.3,183.4 333.7,183.6 334.0,183.8 334.4,184.2 334.7,184.2 335.1,184.1 335.4,184.1 335.8,184.3 336.1,184.2 336.5,184.2 336.8,184.5 337.2,184.5 337.5,184.2 337.9,183.9 338.2,184.1 338.6,184.3 338.9,184.8 339.3,184.5 339.6,184.2 340.0,183.8 340.3,184.1 340.7,183.9 341.0,183.9 341.4,184.2 341.7,184.2 342.1,184.6 342.4,184.3 342.8,184.8 343.1,184.8 343.5,184.3 343.8,184.0 344.2,183.3 344.5,183.4 344.9,183.6 345.2,184.1 345.6,184.4 345.9,184.3 346.3,184.3 346.6,184.1 347.0,184.4 347.3,184.7 347.7,184.6 348.0,185.1 348.4,184.6 348.7,184.7 349.1,184.0 349.4,184.4 349.8,184.7 350.1,184.3 350.5,184.3 350.8,184.3 351.2,184.7 351.5,184.8 351.9,184.5 352.2,184.2 352.6,183.8 352.9,184.2 353.3,184.6 353.6,184.8 354.0,184.5 354.3,184.7 354.7,184.9 355.0,184.7 355.4,184.7 355.7,184.7 356.1,184.9 356.4,185.1 356.8,185.3 357.1,185.7 357.5,185.8 357.8,185.4 358.2,185.6 358.5,185.5 358.9,185.5 359.2,184.9 359.6,184.5 359.9,184.9 360.3,185.0 360.6,185.0 361.0,184.2 361.3,184.4 361.7,184.2 362.0,184.5" fill="none" stroke="#000" stroke-width="1.6"/>
<polyline points="47.5,199.5 47.8,199.2 48.2,198.7 48.5,199.2 48.9,199.7 49.2,200.3 49.6,200.2 49.9,200.1 50.3,200.2 50.6,200.1 51.0,200.1 51.3,200.2 51.7,200.2 52.0,200.3 52.4,200.1 52.7,200.5 53.1,200.2 53.4,200.2 53.8,199.8 54.1,200.0 54.5,200.1 54.8,200.4 55.2,200.2 55.5,200.0 55.9,200.0 56.2,200.4 56.6,200.2 56.9,199.6 57.3,198.8 57.6,199.2 58.0,199.6 58.3,200.0 58.7,200.0 59.0,200.1 59.4,200.2 59.7,200.1 60.1,199.8 60.4,199.5 60.8,199.4 61.1,199.3 61.5,200.1 61.8,200.2 62.2,199.6 62.5,199.2 62.9,199.5 63.2,199.8 63.6,200.3 63.9,199.6 64.3,200.0 64.6,199.8 65.0,199.9 65.3,199.7 65.7,200.0 66.0,200.2 66.4,200.2 66.7,200.5 67.1,200.5 67.4,200.4 67.8,199.7 68.1,199.7 68.5,199.9 68.8,200.0 69.2,200.0 69.5,199.9 69.9,200.0 70.2,199.6 70.6,199.1 70.9,199.4 71.3,199.5 71.6,200.3 72.0,200.1 72.3,200.1 72.7,200.0 73.0,200.0 73.4,200.0 73.7,200.1 74.1,200.3 74.4,200.8 74.8,201.0 75.1,200.6 75.5,200.3 75.8,200.5 76.2,200.3 76.5,200.1 76.9,199.9 77.2,199.6 77.6,199.9 77.9,200.2 78.3,200.2 78.6,200.5 79.0,200.1 79.3,200.3 79.7,199.8 80.0,200.2 80.4,200.1 80.7,200.1 81.1,199.9 81.4,199.9 81.8,199.6 82.1,199.4 82.5,199.5 82.8,199.5 83.2,200.0 83.5,200.4 83.9,200.8 84.2,200.7 84.6,200.6 84.9,200.6 85.3,200.6 85.6,200.8 86.0,200.2 86.3,200.5 86.7,200.0 87.0,200.4 87.4,200.3 87.7,200.4 88.1,200.4 88.4,200.6 88.8,200.7 89.1,200.1 89.5,200.0 89.8,200.1 90.2,200.5 90.5,200.6 90.9,200.6 91.2,200.5 91.6,200.3 91.9,200.0 92.3,199.8 92.6,200.0 93.0,200.6 93.3,201.1 93.7,200.9 94.0,201.1 94.4,200.9 94.7,201.5 95.1,201.4 95.4,201.4 95.8,200.9 96.1,200.6 96.5,200.7 96.8,200.9 97.2,201.2 97.5,201.1 97.9,201.3 98.2,201.1 98.6,201.9 98.9,201.8 99.3,202.1 99.6,201.6 100.0,201.8 100.3,201.4 100.7,201.5 101.0,201.4 101.4,201.8 101.7,201.9 102.1,202.0 102.4,202.0 102.8,201.8 103.1,201.1 103.5,200.8 103.8,200.8 104.2,200.5 104.5,200.6 104.9,200.6 105.2,200.9 105.6,200.8 105.9,201.0 106.3,201.2 106.6,200.8 107.0,200.8 107.3,200.8 107.7,201.0 108.0,201.0 108.4,201.1 108.7,200.9 109.1,200.7 109.4,200.4 109.8,200.8 110.1,200.8 110.5,200.8 110.8,200.3 111.2,200.3 111.5,200.4 111.9,201.0 112.2,201.2 112.6,201.2 112.9,201.0 113.3,200.4 113.6,200.4 114.0,200.7 114.3,200.9 114.7,200.6 115.0,200.7 115.4,201.2 115.7,201.5 116.1,201.2 116.4,200.9 116.8,200.4 117.1,200.6 117.5,200.3 117.8,201.0 118.2,200.6 118.5,201.0 118.9,200.8 119.2,200.4 119.6,199.7 119.9,199.3 120.3,199.9 120.6,200.3 121.0,200.4 121.3,200.3 121.7,200.3 122.0,200.3 122.4,200.5 122.7,200.1 123.1,199.9 123.4,199.9 123.8,199.9 124.1,200.0 124.5,199.9 124.8,200.1 125.2,199.0 125.5,198.9 125.9,199.1 126.2,199.3 126.6,198.6 126.9,198.8 127.3,198.7 127.6,199.0 128.0,199.4 128.3,199.8 128.7,200.1 129.0,199.3 129.4,198.8 129.7,198.0 130.1,198.0 130.4,197.8 130.8,198.0 131.1,197.6 131.5,197.7 131.8,197.9 132.2,198.3 132.5,198.1 132.9,198.2 133.2,197.8 133.6,197.5 133.9,197.7 134.3,197.9 134.6,198.3 135.0,198.4 135.3,198.0 135.7,197.9 136.0,197.5 136.4,197.3 136.7,197.6 137.1,197.7 137.4,197.7 137.8,197.1 138.1,196.9 138.5,196.7 138.8,196.8 139.2,196.6 139.5,196.5 139.9,196.1 140.2,196.1 140.6,196.0 140.9,195.9 141.3,195.9 141.6,195.9 142.0,196.2 142.3,196.2 142.7,196.6 143.0,196.5 143.4,196.5 143.7,196.5 144.1,196.0 144.4,196.2 144.8,195.8 145.1,195.4 145.5,195.3 145.8,195.3 146.2,194.8 146.5,194.4 146.9,194.0 147.2,194.2 147.6,194.2 147.9,194.0 148.3,194.5 148.6,194.7 149.0,195.1 149.3,194.9 149.7,195.1 150.0,194.6 150.4,194.5 150.7,194.1 151.1,193.6 151.4,193.4 151.8,193.9 152.1,194.4 152.4,194.5 152.8,194.5 153.1,193.9 153.5,193.9 153.8,194.1 154.2,194.2 154.5,193.9 154.9,193.5 155.2,193.8 155.6,194.0 155.9,194.4 156.3,194.1 156.6,194.3 157.0,194.3 157.3,193.9 157.7,193.5 158.0,193.0 158.4,193.2 158.7,193.9 159.1,193.8 159.4,193.9 159.8,193.3 160.1,193.3 160.5,193.2 160.8,192.8 161.2,193.3 161.5,193.0 161.9,193.2 162.2,193.0 162.6,193.0 162.9,192.7 163.3,192.3 163.6,192.6 164.0,192.9 164.3,192.9 164.7,192.5 165.0,192.2 165.4,192.2 165.7,192.4 166.1,192.8 166.4,192.4 166.8,192.2 167.1,191.6 167.5,191.6 167.8,191.7 168.2,192.2 168.5,191.8 168.9,192.1 169.2,192.1 169.6,191.9 169.9,191.6 170.3,191.6 170.6,191.3 171.0,191.5 171.3,191.7 171.7,192.0 172.0,191.6 172.4,191.4 172.7,190.8 173.1,191.0 173.4,190.8 173.8,191.1 174.1,190.6 174.5,190.9 174.8,191.3 175.2,191.0 175.5,191.2 175.9,190.6 176.2,190.5 176.6,190.4 176.9,190.8 177.3,191.1 177.6,190.7 178.0,190.5 178.3,190.3 178.7,190.7 179.0,190.6 179.4,190.8 179.7,190.4 180.1,190.2 180.4,190.1 180.8,190.2 181.1,189.9 181.5,189.8 181.8,189.9 182.2,190.5 182.5,190.7 182.9,190.8 183.2,190.4 183.6,190.6 183.9,190.5 184.3,190.7 184.6,190.4 185.0,190.2 185.3,189.7 185.7,189.5 186.0,189.4 186.4,189.8 186.7,190.2 187.1,190.0 187.4,190.2 187.8,189.9 188.1,189.9 188.5,189.4 188.8,189.3 189.2,189.1 189.5,188.8 189.9,188.6 190.2,188.8 190.6,188.6 190.9,188.5 191.3,188.7 191.6,189.1 192.0,189.1 192.3,188.7 192.7,188.5 193.0,188.1 193.4,188.5 193.7,188.5 194.1,188.6 194.4,188.3 194.8,188.3 195.1,188.4 195.5,188.1 195.8,187.8 196.2,187.8 196.5,187.8 196.9,188.0 197.2,188.8 197.6,188.8 197.9,188.9 198.3,188.1 198.6,187.9 199.0,188.2 199.3,188.0 199.7,188.3 200.0,188.1 200.4,188.0 200.7,188.0 201.1,187.8 201.4,188.6 201.8,188.2 202.1,188.0 202.5,186.9 202.8,186.6 203.2,186.7 203.5,186.9 203.9,187.1 204.2,187.1 204.6,187.1 204.9,187.5 205.3,187.2 205.6,187.0 206.0,186.7 206.3,186.8 206.7,186.6 207.0,186.8 207.4,187.2 207.7,187.4 208.1,187.4 208.4,187.4 208.8,187.4 209.1,187.5 209.5,187.6 209.8,187.2 210.2,187.0 210.5,187.2 210.9,187.3 211.2,187.0 211.6,187.1 211.9,187.4 212.3,188.4 212.6,187.8 213.0,188.0 213.3,187.1 213.7,187.1 214.0,187.0 214.4,187.0 214.7,186.7 215.1,186.4 215.4,186.7 215.8,186.8 216.1,187.0 216.5,187.0 216.8,186.8 217.2,186.5 217.5,186.2 217.9,186.0 218.2,186.1 218.6,186.5 218.9,186.3 219.3,186.0 219.6,186.0 220.0,186.0 220.3,186.0 220.7,185.8 221.0,186.0 221.4,185.6 221.7,185.3 222.1,185.2 222.4,185.7 222.8,185.8 223.1,185.6 223.5,186.0 223.8,185.9 224.2,186.2 224.5,186.2 224.9,186.2 225.2,185.9 225.6,185.9 225.9,185.4 226.3,185.0 226.6,185.1 227.0,185.3 227.3,185.2 227.7,184.8 228.0,185.2 228.4,185.5 228.7,185.8 229.1,185.5 229.4,185.0 229.8,185.1 230.1,185.0 230.5,185.2 230.8,185.3 231.2,185.2 231.5,185.3 231.9,185.1 232.2,184.9 232.6,185.0 232.9,185.3 233.3,185.2 233.6,185.4 234.0,185.7 234.3,185.9 234.7,185.9 235.0,185.7 235.4,185.8 235.7,185.6 236.1,185.7 236.4,185.5 236.8,185.1 237.1,184.9 237.5,184.8 237.8,184.8 238.2,184.7 238.5,184.9 238.9,184.8 239.2,185.3 239.6,185.3 239.9,185.5 240.3,185.7 240.6,185.8 241.0,185.3 241.3,185.1 241.7,184.9 242.0,184.9 242.4,184.8 242.7,184.9 243.1,184.7 243.4,184.7 243.8,184.5 244.1,184.7 244.5,184.8 244.8,185.4 245.2,185.4 245.5,185.1 245.9,185.1 246.2,185.4 246.6,185.7 246.9,185.7 247.3,185.6 247.6,185.5 248.0,185.6 248.3,185.6 248.7,185.2 249.0,184.5 249.4,184.5 249.7,184.3 250.1,184.5 250.4,184.5 250.8,184.7 251.1,184.6 251.5,184.8 251.8,184.9 252.2,184.9 252.5,184.4 252.9,184.6 253.2,185.1 253.6,185.2 253.9,185.0 254.3,184.3 254.6,184.2 255.0,183.8 255.3,184.4 255.7,184.5 256.0,184.2 256.4,184.3 256.7,184.1 257.1,184.5 257.4,184.4 257.7,184.7 258.1,184.5 258.4,185.0 258.8,184.6 259.1,184.4 259.5,184.1 259.8,184.2 260.2,184.2 260.5,184.5 260.9,184.7 261.2,184.5 261.6,184.2 261.9,184.2 262.3,184.7 262.6,184.6 263.0,184.5 263.3,184.5 263.7,184.9 264.0,185.0 264.4,184.5 264.7,184.5 265.1,184.5 265.4,185.5 265.8,185.8 266.1,186.0 266.5,185.5 266.8,184.9 267.2,184.7 267.5,185.0 267.9,184.6 268.2,184.9 268.6,185.0 268.9,184.8 269.3,184.4 269.6,184.2 270.0,184.5 270.3,184.7 270.7,184.7 271.0,184.9 271.4,185.0 271.7,185.2 272.1,185.6 272.4,185.4 272.8,185.1 273.1,185.0 273.5,184.9 273.8,185.1 274.2,185.2 274.5,185.0 274.9,185.1 275.2,185.2 275.6,185.0 275.9,184.9 276.3,184.7 276.6,184.7 277.0,184.8 277.3,185.0 277.7,185.3 278.0,184.9 278.4,184.3 278.7,184.7 279.1,185.0 279.4,184.7 279.8,184.3 280.1,184.5 280.5,185.1 280.8,185.5 281.2,185.2 281.5,184.6 281.9,184.8 282.2,184.8 282.6,184.5 282.9,184.4 283.3,184.5 283.6,185.4 284.0,185.4 284.3,185.4 284.7,185.3 285.0,185.3 285.4,185.1 285.7,184.6 286.1,184.5 286.4,184.8 286.8,185.0 287.1,184.9 287.5,185.1 287.8,184.8 288.2,184.9 288.5,184.7 288.9,184.9 289.2,184.8 289.6,184.8 289.9,184.7 290.3,184.1 290.6,183.9 291.0,183.9 291.3,184.1 291.7,184.2 292.0,184.1 292.4,184.4 292.7,184.7 293.1,184.3 293.4,184.0 293.8,183.5 294.1,183.4 294.5,183.5 294.8,183.5 295.2,183.9 295.5,183.7 295.9,184.1 296.2,184.5 296.6,184.6 296.9,184.6 297.3,184.2 297.6,184.2 298.0,183.9 298.3,184.0 298.7,184.0 299.0,184.0 299.4,184.3 299.7,184.5 300.1,184.6 300.4,185.1 300.8,184.5 301.1,184.3 301.5,183.6 301.8,184.0 302.2,183.8 302.5,184.1 302.9,184.0 303.2,184.4 303.6,184.6 303.9,184.5 304.3,184.1 304.6,184.2 305.0,184.4 305.3,184.8 305.7,184.5 306.0,184.1 306.4,184.0 306.7,184.1 307.1,183.9 307.4,184.3 307.8,184.0 308.1,184.7 308.5,184.9 308.8,185.0 309.2,184.7 309.5,184.4 309.9,184.4 310.2,185.1 310.6,185.4 310.9,185.0 311.3,184.6 311.6,184.3 312.0,184.4 312.3,184.2 312.7,184.3 313.0,184.5 313.4,184.7 313.7,184.8 314.1,184.9 314.4,184.2 314.8,183.6 315.1,183.7 315.5,184.3 315.8,184.9 316.2,184.9 316.5,184.7 316.9,184.3 317.2,184.6 317.6,184.5 317.9,184.2 318.3,183.8 318.6,183.6 319.0,183.8 319.3,183.8 319.7,184.2 320.0,184.1 320.4,184.3 320.7,184.5 321.1,184.4 321.4,183.7 321.8,183.0 322.1,183.0 322.5,183.7 322.8,183.7 323.2,183.8 323.5,183.6 323.9,183.9 324.2,183.9 324.6,183.8 324.9,183.8 325.3,183.9 325.6,184.4 326.0,184.1 326.3,184.1 326.7,184.1 327.0,184.0 327.4,184.4 327.7,184.6 328.1,185.2 328.4,185.1 328.8,185.0 329.1,184.5 329.5,184.5 329.8,184.5 330.2,184.0 330.5,184.1 330.9,183.7 331.2,184.2 331.6,184.4 331.9,184.7 332.3,184.8 332.6,184.5 333.0,184.3 333.3,184.3 333.7,184.3 334.0,184.3 334.4,184.5 334.7,184.8 335.1,184.7 335.4,184.1 335.8,184.1 336.1,183.6 336.5,184.0 336.8,184.0 337.2,184.6 337.5,185.0 337.9,185.2 338.2,185.1 338.6,184.6 338.9,184.7 339.3,184.3 339.6,184.5 340.0,185.0 340.3,185.2 340.7,184.6 341.0,183.8 341.4,183.6 341.7,184.4 342.1,184.6 342.4,184.5 342.8,184.4 343.1,184.4 343.5,184.1 343.8,184.0 344.2,183.5 344.5,183.8 344.9,184.0 345.2,184.9 345.6,184.4 345.9,184.2 346.3,184.0 346.6,184.5 347.0,185.0 347.3,184.7 347.7,184.7 348.0,184.2 348.4,184.3 348.7,184.1 349.1,184.2 349.4,184.4 349.8,184.8 350.1,184.4 350.5,184.5 350.8,184.4 351.2,184.6 351.5,184.1 351.9,184.1 352.2,184.5 352.6,184.6 352.9,184.2 353.3,184.1 353.6,184.3 354.0,185.1 354.3,184.6 354.7,185.0 355.0,184.8 355.4,185.3 355.7,185.1 356.1,184.6 356.4,184.8 356.8,184.5 357.1,184.5 357.5,184.1 357.8,184.0 358.2,183.9 358.5,184.1 358.9,184.6 359.2,185.2 359.6,185.2 359.9,185.3 360.3,185.1 360.6,184.5 361.0,184.4 361.3,184.1 361.7,184.3 362.0,184.4" fill="none" stroke="#f00" stroke-width="1.5"/>
<polyline points="47.5,202.2 47.8,202.4 48.2,202.0 48.5,202.3 48.9,202.1 49.2,201.8 49.6,201.9 49.9,201.7 50.3,202.3 50.6,202.2 51.0,202.5 51.3,202.1 51.7,201.9 52.0,201.8 52.4,201.9 52.7,201.9 53.1,202.1 53.4,202.4 53.8,202.4 54.1,202.4 54.5,202.4 54.8,202.5 55.2,202.2 55.5,201.7 55.9,201.6 56.2,201.8 56.6,202.0 56.9,201.9 57.3,201.7 57.6,201.5 58.0,201.6 58.3,201.5 58.7,201.6 59.0,201.6 59.4,201.6 59.7,201.3 60.1,201.4 60.4,201.4 60.8,201.7 61.1,201.4 61.5,201.8 61.8,201.9 62.2,201.9 62.5,201.7 62.9,201.7 63.2,201.9 63.6,201.9 63.9,202.0 64.3,202.0 64.6,201.7 65.0,201.5 65.3,201.5 65.7,201.6 66.0,201.5 66.4,201.3 66.7,201.2 67.1,200.8 67.4,200.8 67.8,200.9 68.1,200.9 68.5,200.8 68.8,200.5 69.2,200.9 69.5,200.8 69.9,200.7 70.2,200.7 70.6,200.8 70.9,200.8 71.3,200.7 71.6,200.4 72.0,200.7 72.3,200.8 72.7,200.6 73.0,200.6 73.4,200.2 73.7,200.3 74.1,200.2 74.4,200.2 74.8,199.6 75.1,200.0 75.5,199.9 75.8,200.0 76.2,199.8 76.5,199.7 76.9,199.6 77.2,199.4 77.6,199.2 77.9,199.2 78.3,199.0 78.6,198.9 79.0,198.6 79.3,198.8 79.7,198.6 80.0,198.8 80.4,198.5 80.7,198.4 81.1,198.7 81.4,199.0 81.8,199.0 82.1,198.4 82.5,198.2 82.8,198.2 83.2,198.2 83.5,198.0 83.9,197.7 84.2,197.8 84.6,198.0 84.9,197.9 85.3,198.1 85.6,198.2 86.0,198.2 86.3,197.7 86.7,197.6 87.0,197.4 87.4,197.8 87.7,197.6 88.1,197.7 88.4,197.8 88.8,197.8 89.1,197.4 89.5,197.4 89.8,197.4 90.2,197.6 90.5,197.9 90.9,197.8 91.2,197.8 91.6,197.7 91.9,197.8 92.3,197.9 92.6,197.9 93.0,197.3 93.3,197.2 93.7,196.9 94.0,197.2 94.4,197.3 94.7,197.3 95.1,197.1 95.4,197.2 95.8,197.3 96.1,197.3 96.5,197.3 96.8,197.6 97.2,197.6 97.5,197.5 97.9,197.1 98.2,197.0 98.6,196.9 98.9,196.9 99.3,196.9 99.6,196.8 100.0,196.9 100.3,197.1 100.7,196.8 101.0,196.5 101.4,196.6 101.7,196.8 102.1,196.6 102.4,196.7 102.8,196.7 103.1,197.0 103.5,197.1 103.8,197.2 104.2,197.2 104.5,197.2 104.9,197.4 105.2,197.0 105.6,197.1 105.9,196.8 106.3,196.8 106.6,196.9 107.0,197.2 107.3,197.5 107.7,197.5 108.0,197.4 108.4,197.2 108.7,197.1 109.1,197.0 109.4,196.7 109.8,197.0 110.1,197.1 110.5,197.2 110.8,197.0 111.2,197.1 111.5,196.9 111.9,197.1 112.2,197.2 112.6,197.2 112.9,197.2 113.3,197.4 113.6,197.4 114.0,197.4 114.3,197.1 114.7,197.1 115.0,196.9 115.4,196.9 115.7,197.1 116.1,197.3 116.4,197.4 116.8,197.5 117.1,197.7 117.5,197.5 117.8,197.3 118.2,197.2 118.5,197.1 118.9,196.9 119.2,196.7 119.6,196.9 119.9,196.8 120.3,197.2 120.6,197.2 121.0,197.3 121.3,197.2 121.7,197.3 122.0,197.7 122.4,197.6 122.7,197.9 123.1,198.2 123.4,198.2 123.8,198.3 124.1,198.1 124.5,198.1 124.8,198.2 125.2,198.8 125.5,199.1 125.9,199.3 126.2,199.3 126.6,199.2 126.9,199.2 127.3,199.4 127.6,199.5 128.0,199.5 128.3,199.4 128.7,199.4 129.0,199.5 129.4,199.6 129.7,199.7 130.1,199.8 130.4,200.0 130.8,200.0 131.1,200.2 131.5,200.2 131.8,200.3 132.2,200.6 132.5,200.8 132.9,200.9 133.2,201.0 133.6,201.4 133.9,201.6 134.3,201.6 134.6,201.4 135.0,201.6 135.3,201.9 135.7,202.1 136.0,202.1 136.4,201.9 136.7,202.3 137.1,202.1 137.4,202.3 137.8,202.1 138.1,202.3 138.5,202.3 138.8,202.4 139.2,202.6 139.5,202.9 139.9,203.2 140.2,203.4 140.6,203.3 140.9,203.3 141.3,203.3 141.6,203.6 142.0,203.6 142.3,203.7 142.7,204.1 143.0,204.1 143.4,203.9 143.7,204.0 144.1,204.3 144.4,204.3 144.8,204.4 145.1,204.2 145.5,204.4 145.8,204.3 146.2,204.5 146.5,204.4 146.9,204.5 147.2,204.7 147.6,204.6 147.9,204.8 148.3,204.7 148.6,204.5 149.0,204.6 149.3,204.8 149.7,204.8 150.0,205.0 150.4,204.8 150.7,205.0 151.1,204.9 151.4,204.9 151.8,204.9 152.1,205.2 152.4,205.6 152.8,205.5 153.1,205.8 153.5,206.0 153.8,206.0 154.2,206.0 154.5,206.3 154.9,206.5 155.2,206.8 155.6,206.9 155.9,207.1 156.3,206.9 156.6,206.7 157.0,206.7 157.3,207.0 157.7,207.0 158.0,207.1 158.4,207.2 158.7,207.3 159.1,207.3 159.4,207.4 159.8,207.3 160.1,207.1 160.5,207.2 160.8,207.3 161.2,207.6 161.5,207.7 161.9,208.0 162.2,208.3 162.6,208.4 162.9,208.5 163.3,208.6 163.6,208.6 164.0,208.5 164.3,208.7 164.7,208.7 165.0,208.5 165.4,208.5 165.7,208.6 166.1,209.3 166.4,209.4 166.8,209.3 167.1,209.7 167.5,209.9 167.8,210.1 168.2,210.3 168.5,210.6 168.9,211.0 169.2,211.1 169.6,211.3 169.9,211.3 170.3,211.4 170.6,211.4 171.0,212.0 171.3,211.9 171.7,212.1 172.0,212.1 172.4,212.2 172.7,212.5 173.1,212.3 173.4,212.5 173.8,212.7 174.1,212.8 174.5,212.5 174.8,212.7 175.2,212.9 175.5,213.2 175.9,213.2 176.2,212.9 176.6,213.3 176.9,213.5 177.3,213.6 177.6,213.9 178.0,214.2 178.3,214.5 178.7,214.5 179.0,214.8 179.4,214.8 179.7,215.1 180.1,215.1 180.4,215.3 180.8,215.6 181.1,215.9 181.5,216.5 181.8,216.8 182.2,217.0 182.5,217.3 182.9,217.3 183.2,217.0 183.6,217.3 183.9,217.5 184.3,217.9 184.6,218.3 185.0,218.3 185.3,218.4 185.7,218.5 186.0,219.1 186.4,219.4 186.7,219.5 187.1,219.4 187.4,219.6 187.8,220.2 188.1,220.7 188.5,221.0 188.8,221.3 189.2,221.6 189.5,222.0 189.9,222.2 190.2,222.2 190.6,222.4 190.9,222.6 191.3,222.5 191.6,222.9 192.0,223.1 192.3,223.7 192.7,223.5 193.0,223.7 193.4,224.0 193.7,224.4 194.1,224.5 194.4,224.7 194.8,225.1 195.1,225.2 195.5,225.3 195.8,225.8 196.2,226.2 196.5,226.3 196.9,226.3 197.2,226.3 197.6,226.7 197.9,226.8 198.3,226.7 198.6,226.7 199.0,226.9 199.3,227.2 199.7,227.4 200.0,227.8 200.4,227.9 200.7,228.2 201.1,228.3 201.4,228.7 201.8,228.6 202.1,228.9 202.5,229.2 202.8,229.3 203.2,229.6 203.5,229.8 203.9,230.2 204.2,230.5 204.6,230.8 204.9,231.0 205.3,231.1 205.6,231.3 206.0,231.4 206.3,231.8 206.7,232.1 207.0,232.4 207.4,232.3 207.7,232.5 208.1,232.7 208.4,232.9 208.8,233.1 209.1,233.3 209.5,233.6 209.8,233.9 210.2,233.9 210.5,234.4 210.9,234.9 211.2,235.1 211.6,235.2 211.9,234.9 212.3,235.2 212.6,235.3 213.0,235.7 213.3,236.1 213.7,236.1 214.0,236.4 214.4,236.5 214.7,236.8 215.1,237.4 215.4,237.7 215.8,238.1 216.1,238.1 216.5,238.2 216.8,238.6 217.2,238.8 217.5,239.0 217.9,239.4 218.2,239.7 218.6,240.0 218.9,240.6 219.3,241.0 219.6,241.4 220.0,241.7 220.3,241.8 220.7,242.0 221.0,242.3 221.4,242.0 221.7,242.4 222.1,242.4 222.4,242.8 222.8,243.1 223.1,243.4 223.5,243.3 223.8,243.8 224.2,243.9 224.5,244.0 224.9,243.9 225.2,244.0 225.6,244.4 225.9,244.7 226.3,245.1 226.6,245.6 227.0,245.8 227.3,246.0 227.7,246.0 228.0,246.6 228.4,246.7 228.7,246.9 229.1,247.1 229.4,247.5 229.8,247.9 230.1,248.1 230.5,248.2 230.8,248.4 231.2,248.7 231.5,249.2 231.9,249.5 232.2,249.7 232.6,249.8 232.9,249.9 233.3,250.2 233.6,250.6 234.0,250.6 234.3,250.9 234.7,251.2 235.0,251.8 235.4,252.0 235.7,251.9 236.1,252.1 236.4,252.2 236.8,252.1 237.1,252.3 237.5,252.3 237.8,252.5 238.2,252.5 238.5,252.9 238.9,253.0 239.2,253.3 239.6,253.4 239.9,253.8 240.3,253.9 240.6,254.1 241.0,254.3 241.3,254.6 241.7,254.8 242.0,255.0 242.4,255.1 242.7,255.1 243.1,255.4 243.4,255.9 243.8,255.9 244.1,255.6 244.5,255.5 244.8,255.9 245.2,256.2 245.5,256.4 245.9,256.7 246.2,256.8 246.6,257.0 246.9,257.0 247.3,257.2 247.6,257.3 248.0,257.1 248.3,257.0 248.7,256.9 249.0,257.1 249.4,257.6 249.7,257.7 250.1,257.3 250.4,257.0 250.8,257.4 251.1,257.7 251.5,258.0 251.8,258.0 252.2,258.1 252.5,258.2 252.9,258.2 253.2,258.5 253.6,258.4 253.9,258.7 254.3,258.6 254.6,259.0 255.0,258.9 255.3,258.8 255.7,258.6 256.0,258.5 256.4,258.6 256.7,258.6 257.1,258.6 257.4,258.3 257.7,258.0 258.1,258.1 258.4,258.2 258.8,258.1 259.1,258.4 259.5,258.5 259.8,258.4 260.2,258.2 260.5,258.4 260.9,258.8 261.2,258.9 261.6,259.4 261.9,259.6 262.3,260.0 262.6,260.1 263.0,260.4 263.3,260.7 263.7,260.9 264.0,260.7 264.4,260.8 264.7,260.9 265.1,260.7 265.4,261.0 265.8,260.9 266.1,261.3 266.5,261.1 266.8,261.1 267.2,261.0 267.5,260.9 267.9,260.7 268.2,260.8 268.6,260.9 268.9,261.0 269.3,260.9 269.6,260.9 270.0,260.9 270.3,260.6 270.7,260.5 271.0,260.4 271.4,260.7 271.7,260.4 272.1,260.4 272.4,260.3 272.8,260.3 273.1,260.4 273.5,260.2 273.8,260.3 274.2,260.2 274.5,260.2 274.9,260.5 275.2,260.8 275.6,260.9 275.9,261.1 276.3,261.2 276.6,261.2 277.0,261.5 277.3,261.9 277.7,262.1 278.0,262.1 278.4,262.0 278.7,261.7 279.1,261.7 279.4,261.9 279.8,262.0 280.1,262.3 280.5,262.9 280.8,263.0 281.2,263.1 281.5,263.2 281.9,263.3 282.2,263.7 282.6,263.6 282.9,263.8 283.3,264.0 283.6,264.0 284.0,264.2 284.3,264.2 284.7,264.3 285.0,264.2 285.4,264.5 285.7,264.5 286.1,264.4 286.4,264.1 286.8,264.0 287.1,264.2 287.5,264.4 287.8,264.4 288.2,264.2 288.5,264.2 288.9,264.4 289.2,264.5 289.6,264.6 289.9,264.2 290.3,264.4 290.6,264.4 291.0,264.6 291.3,264.6 291.7,264.3 292.0,264.2 292.4,263.8 292.7,264.0 293.1,264.2 293.4,264.4 293.8,263.8 294.1,263.4 294.5,263.3 294.8,263.3 295.2,263.2 295.5,263.0 295.9,262.9 296.2,263.0 296.6,262.9 296.9,262.5 297.3,262.5 297.6,262.3 298.0,262.2 298.3,262.2 298.7,262.5 299.0,262.5 299.4,262.2 299.7,262.2 300.1,262.1 300.4,262.3 300.8,262.4 301.1,262.4 301.5,262.5 301.8,262.3 302.2,262.2 302.5,262.2 302.9,262.3 303.2,262.5 303.6,262.5 303.9,262.6 304.3,262.7 304.6,262.3 305.0,262.4 305.3,262.4 305.7,262.4 306.0,262.4 306.4,262.3 306.7,262.0 307.1,261.9 307.4,261.7 307.8,261.8 308.1,262.0 308.5,262.1 308.8,262.1 309.2,261.7 309.5,261.6 309.9,261.6 310.2,261.8 310.6,261.9 310.9,262.3 311.3,262.5 311.6,262.6 312.0,262.4 312.3,262.4 312.7,262.4 313.0,262.3 313.4,262.2 313.7,262.2 314.1,262.5 314.4,263.0 314.8,263.1 315.1,263.2 315.5,263.2 315.8,263.3 316.2,263.0 316.5,263.2 316.9,263.2 317.2,263.5 317.6,263.5 317.9,263.4 318.3,262.8 318.6,262.5 319.0,262.6 319.3,262.8 319.7,262.8 320.0,262.9 320.4,263.0 320.7,262.6 321.1,262.5 321.4,262.4 321.8,262.5 322.1,262.2 322.5,262.2 322.8,262.1 323.2,262.5 323.5,262.3 323.9,262.2 324.2,262.2 324.6,262.1 324.9,262.4 325.3,262.4 325.6,262.2 326.0,261.9 326.3,262.0 326.7,262.4 327.0,262.5 327.4,262.7 327.7,262.6 328.1,262.3 328.4,262.3 328.8,262.4 329.1,262.3 329.5,262.2 329.8,262.3 330.2,262.1 330.5,261.9 330.9,261.7 331.2,261.3 331.6,261.1 331.9,260.8 332.3,260.8 332.6,260.8 333.0,260.9 333.3,260.4 333.7,260.8 334.0,261.0 334.4,261.0 334.7,261.0 335.1,261.0 335.4,261.1 335.8,260.9 336.1,260.7 336.5,260.8 336.8,260.7 337.2,260.9 337.5,260.8 337.9,260.6 338.2,260.9 338.6,260.9 338.9,261.1 339.3,261.3 339.6,261.3 340.0,261.0 340.3,260.9 340.7,261.2 341.0,261.4 341.4,261.5 341.7,261.6 342.1,261.7 342.4,261.8 342.8,261.9 343.1,262.0 343.5,262.0 343.8,262.1 344.2,261.7 344.5,261.7 344.9,261.6 345.2,261.9 345.6,261.6 345.9,261.6 346.3,261.6 346.6,261.8 347.0,261.7 347.3,261.6 347.7,261.4 348.0,261.7 348.4,261.7 348.7,261.6 349.1,261.6 349.4,261.9 349.8,262.0 350.1,262.1 350.5,261.6 350.8,261.8 351.2,261.9 351.5,262.4 351.9,262.4 352.2,262.2 352.6,261.9 352.9,261.8 353.3,261.9 353.6,262.0 354.0,261.8 354.3,261.9 354.7,261.9 355.0,262.1 355.4,262.1 355.7,262.0 356.1,261.8 356.4,261.8 356.8,262.0 357.1,261.8 357.5,261.5 357.8,261.5 358.2,262.0 358.5,262.1 358.9,261.9 359.2,261.9 359.6,262.3 359.9,262.3 360.3,262.2 360.6,262.1 361.0,262.0 361.3,261.9 361.7,262.2 362.0,262.2" fill="none" stroke="#008b00" stroke-width="1.8"/>
</g>
<path d="M47.5,266.8V45.5H361.5V266.8" fill="none" stroke="#333" stroke-width="1"/>
<line x1="47.5" y1="266.8" x2="362.0" y2="266.8" stroke="#707070" stroke-width="1.4"/>
<line x1="47.5" y1="156.3" x2="361.5" y2="156.3" stroke="#444" stroke-width="1.1"/>
<path d="M99.50,45.5v3.2 M99.50,153.10000000000002v6.4 M99.50,266.8v-3.2 M152.50,45.5v6.3 M152.50,150.0v12.6 M152.50,266.8v-6.3 M204.50,45.5v3.2 M204.50,153.10000000000002v6.4 M204.50,266.8v-3.2 M256.50,45.5v6.3 M256.50,150.0v12.6 M256.50,266.8v-6.3 M309.50,45.5v3.2 M309.50,153.10000000000002v6.4 M309.50,266.8v-3.2 M47.5,63.50h3.2 M47.5,82.50h6.3 M47.5,100.50h3.2 M47.5,119.50h6.3 M47.5,137.50h3.2 M361.5,145.50h-3.2 M361.5,134.50h-6.3 M361.5,123.50h-3.2 M361.5,111.50h-6.3 M361.5,100.50h-3.2 M361.5,89.50h-6.3 M361.5,78.50h-3.2 M361.5,67.50h-6.3 M361.5,56.50h-3.2 M47.5,263.50h6.3 M361.5,263.50h-6.3 M47.5,245.50h3.2 M361.5,245.50h-3.2 M47.5,227.50h6.3 M361.5,227.50h-6.3 M47.5,210.50h3.2 M361.5,210.50h-3.2 M47.5,192.50h6.3 M361.5,192.50h-6.3 M47.5,174.50h3.2 M361.5,174.50h-3.2" stroke="#333" stroke-width="0.75" fill="none"/>
<text x="44.4" y="49.4" font-size="11" text-anchor="end" fill="#111">200</text>
<text x="44.4" y="86.3" font-size="11" text-anchor="end" fill="#111">100</text>
<text x="44.4" y="123.2" font-size="11" text-anchor="end" fill="#111">0</text>
<text x="364.9" y="161.5" font-size="13" fill="#f00" textLength="11.6" lengthAdjust="spacingAndGlyphs">99</text>
<text x="364.3" y="139.3" font-size="13" fill="#f00" textLength="17.1" lengthAdjust="spacingAndGlyphs">100</text>
<text x="364.3" y="117.2" font-size="13" fill="#f00" textLength="17.1" lengthAdjust="spacingAndGlyphs">101</text>
<text x="364.3" y="95.0" font-size="13" fill="#f00" textLength="17.1" lengthAdjust="spacingAndGlyphs">102</text>
<text x="364.3" y="72.9" font-size="13" fill="#f00" textLength="17.1" lengthAdjust="spacingAndGlyphs">103</text>
<text x="364.3" y="50.7" font-size="13" fill="#f00" textLength="17.1" lengthAdjust="spacingAndGlyphs">104</text>
<text x="47.2" y="196.3" font-size="11" text-anchor="end" fill="#111">0. 2</text>
<text x="47.2" y="231.8" font-size="11" text-anchor="end" fill="#111">0. 1</text>
<text x="46.3" y="267.1" font-size="11" text-anchor="end" fill="#111">0</text>
<text x="47.5" y="277.9" font-size="10.9" text-anchor="middle" fill="#111">0</text>
<text x="152.2" y="277.9" font-size="10.9" text-anchor="middle" fill="#111">5</text>
<text x="256.8" y="277.9" font-size="10.9" text-anchor="middle" fill="#111">10</text>
<text x="361.5" y="277.9" font-size="10.9" text-anchor="middle" fill="#111">15</text>
<text x="179.8" y="289.6" font-size="12.9" textLength="50.6" lengthAdjust="spacingAndGlyphs">Time (ps)</text>
<text transform="translate(21,142.7) rotate(-90)" font-size="11.6" textLength="84.5" lengthAdjust="spacingAndGlyphs" stroke="#000" stroke-width="0.1">E field (kV/cm)</text>
<text transform="translate(24.0,264) rotate(-90)" font-size="11.6" textLength="104" lengthAdjust="spacingAndGlyphs" stroke="#000" stroke-width="0.1">Polarization (C/m<tspan dy="-7.6" font-size="8">2</tspan><tspan dy="7.6">)</tspan></text>
<text transform="translate(390.5,102.2) rotate(90)" font-size="15.5" fill="#f00" stroke="#f00" stroke-width="0.12" text-anchor="middle">Temperature</text>
<rect x="291.4" y="191.4" width="53.2" height="65.5" fill="#fff" stroke="#000" stroke-width="1.2"/>
<line x1="296.2" y1="200" x2="317.5" y2="200" stroke="#000" stroke-width="2.0"/>
<text transform="translate(324.9,205.7) skewX(-14)" font-size="17.3">P<tspan dx="-0.6" dy="3.6" font-size="13.2">x</tspan></text>
<line x1="296.2" y1="223.6" x2="317.5" y2="223.6" stroke="#f00" stroke-width="1.4"/>
<text transform="translate(324.9,229.3) skewX(-14)" font-size="17.3">P<tspan dx="-0.6" dy="0" font-size="13.2">y</tspan></text>
<line x1="296.2" y1="247.6" x2="317.5" y2="247.6" stroke="#008b00" stroke-width="2.0"/>
<text transform="translate(324.9,253.3) skewX(-14)" font-size="17.3">P<tspan dx="-0.6" dy="0" font-size="13.2">z</tspan></text>
</g>
<g id="panel-b">
<text x="425.3" y="29.3" font-size="15" fill="#000">(b)</text>
<line x1="464.5" y1="217" x2="653.5" y2="125.3" stroke="#2ea82e" stroke-width="1" stroke-dasharray="4.3,3"/>
<line x1="653.5" y1="125.3" x2="780.5" y2="64.6" stroke="#2ea82e" stroke-width="1.1"/>
<line x1="464.5" y1="245" x2="655" y2="151.7" stroke="#1a1aff" stroke-width="0.9"/>
<polygon points="768.9,67.69999999999999 772.6999999999999,67.69999999999999 770.8,63.89999999999999" fill="#178a17"/>
<polygon points="706.9,97.6 710.6999999999999,97.6 708.8,93.8" fill="#178a17"/>
<circle cx="578.7" cy="189.3" r="1.5" fill="#1a1aff"/>
<circle cx="521.4" cy="217.2" r="1.5" fill="#1a1aff"/>
<circle cx="655.2" cy="151.7" r="2.9" fill="#1a1aff"/>
<circle cx="616.5" cy="142.9" r="2.8" fill="#178a17"/>
<line x1="649.8" y1="149.9" x2="625" y2="145" stroke="#1a1aff" stroke-width="1.2"/><polygon points="621,144.2 627.3,143.6 626.6,147.1" fill="#1a1aff"/>
<line x1="655.9" y1="128" x2="655.9" y2="145.5" stroke="#000" stroke-width="0.9"/><polygon points="655.9,124.7 654.2,130.4 657.6,130.4" fill="#000"/><polygon points="655.9,148.7 654.2,143 657.6,143" fill="#000"/>
<path d="M464.0,47.5H781.0" fill="none" stroke="#666" stroke-width="1"/>
<path d="M780.5,47.5V269.0" fill="none" stroke="#adadad" stroke-width="1"/>
<path d="M464.5,47.5V269.0H781.0" fill="none" stroke="#505050" stroke-width="1.1"/>
<path d="M495.50,47.5v3.2 M495.50,269.0v-3.2 M527.50,47.5v6.7 M527.50,269.0v-6.7 M558.50,47.5v3.2 M558.50,269.0v-3.2 M590.50,47.5v6.7 M590.50,269.0v-6.7 M622.50,47.5v3.2 M622.50,269.0v-3.2 M653.50,47.5v6.7 M653.50,269.0v-6.7 M685.50,47.5v3.2 M685.50,269.0v-3.2 M716.50,47.5v6.7 M716.50,269.0v-6.7 M748.50,47.5v3.2 M748.50,269.0v-3.2 M464.5,247.50h6.4 M780.5,247.50h-6.4 M464.5,224.50h3.2 M780.5,224.50h-3.2 M464.5,202.50h6.4 M780.5,202.50h-6.4 M464.5,180.50h3.2 M780.5,180.50h-3.2 M464.5,158.50h6.4 M780.5,158.50h-6.4 M464.5,136.50h3.2 M780.5,136.50h-3.2 M464.5,114.50h6.4 M780.5,114.50h-6.4 M464.5,92.50h3.2 M780.5,92.50h-3.2 M464.5,69.50h6.4 M780.5,69.50h-6.4" stroke="#444" stroke-width="0.75" fill="none"/>
 <text x="446.2" y="250.7" font-size="11.2" textLength="14.8" lengthAdjust="spacingAndGlyphs" fill="#1a1a1a">130</text>
 <text x="446.2" y="206.4" font-size="11.2" textLength="14.8" lengthAdjust="spacingAndGlyphs" fill="#1a1a1a">132</text>
 <text x="446.2" y="162.1" font-size="11.2" textLength="14.8" lengthAdjust="spacingAndGlyphs" fill="#1a1a1a">134</text>
 <text x="446.2" y="117.8" font-size="11.2" textLength="14.8" lengthAdjust="spacingAndGlyphs" fill="#1a1a1a">136</text>
 <text x="446.2" y="73.5" font-size="11.2" textLength="14.8" lengthAdjust="spacingAndGlyphs" fill="#1a1a1a">138</text>
<text x="459.2" y="279.2" font-size="10.9" textLength="10.0" lengthAdjust="spacingAndGlyphs" fill="#1a1a1a">99</text>
<text x="520.2" y="279.2" font-size="10.9" textLength="14.4" lengthAdjust="spacingAndGlyphs" fill="#1a1a1a">100</text>
<text x="583.3" y="279.2" font-size="10.9" textLength="14.4" lengthAdjust="spacingAndGlyphs" fill="#1a1a1a">101</text>
<text x="646.4" y="279.2" font-size="10.9" textLength="14.4" lengthAdjust="spacingAndGlyphs" fill="#1a1a1a">102</text>
<text x="709.6" y="279.2" font-size="10.9" textLength="14.4" lengthAdjust="spacingAndGlyphs" fill="#1a1a1a">103</text>
<text x="772.7" y="279.2" font-size="10.9" textLength="14.4" lengthAdjust="spacingAndGlyphs" fill="#1a1a1a">104</text>
<text x="578.8" y="291.2" font-size="12.8" textLength="86.2" lengthAdjust="spacingAndGlyphs">Temperature (K)</text>
<text transform="translate(439.8,189.5) rotate(-90)" font-size="12.8" font-family="'Liberation Sans', sans-serif" textLength="64" lengthAdjust="spacingAndGlyphs" stroke="#000" stroke-width="0.08">Energy (eV)</text>
<text x="661.7" y="75.7" font-size="16.3" fill="#1f9a1f" textLength="86.9" lengthAdjust="spacingAndGlyphs">Orthorhombic</text>
<text x="540.3" y="234.2" font-size="16.3" fill="#1212ff" stroke="#1212ff" stroke-width="0.15" textLength="84" lengthAdjust="spacingAndGlyphs">Rhomohedral</text>
<text x="663.8" y="140.6" font-size="16" fill="#000" textLength="109.8" lengthAdjust="spacingAndGlyphs">Transition Energy</text>
</g>
</svg>
</body></html>
